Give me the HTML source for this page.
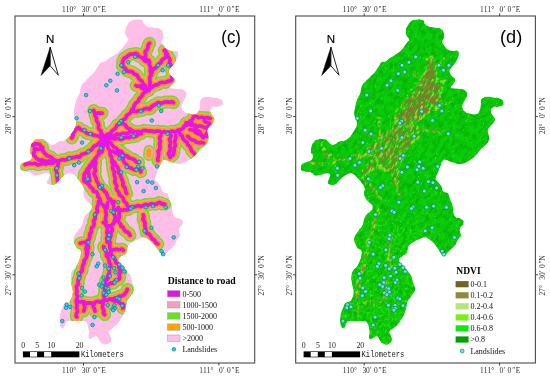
<!DOCTYPE html>
<html><head><meta charset="utf-8"><title>Distance to road and NDVI maps</title>
<style>
html,body{margin:0;padding:0;background:#fff}
svg{display:block}
.cl{font:7.4px "Liberation Serif",serif;fill:#2d2d2d}
.sl{font:7.8px "Liberation Serif",serif;fill:#222}
.km{font:8.4px "Liberation Mono",monospace;fill:#222}
.lt{font:bold 10.3px "Liberation Serif",serif;fill:#000}
.ls{font:bold 9.5px "Liberation Sans",sans-serif;fill:#000}
.li{font:8px "Liberation Serif",serif;fill:#111}
.ttl{font:17.5px "Liberation Sans",sans-serif;fill:#000}
.dot,.dots circle{fill:#0fe1f0;stroke:#1e6e82;stroke-width:0.7}
.dots.dr circle,.dot.dr{fill:#5fe1ff;stroke:#14783c;stroke-width:0.6;r:1.95px}
</style></head><body>
<svg width="550" height="378" viewBox="0 0 550 378">
<defs>
<path id="reg" d="M124.5 45.0C126.2 42.8 125.3 43.8 126.3 42.4C127.3 41.0 128.4 41.4 128.3 39.6C128.2 37.8 126.6 38.0 125.8 35.8C125.0 33.6 124.9 34.0 125.2 31.4C125.5 28.8 125.3 28.7 126.8 26.0C128.3 23.3 128.2 22.8 130.7 21.1C133.2 19.4 133.1 19.8 136.1 19.5C139.1 19.2 139.9 18.9 142.1 20.0C144.3 21.1 142.7 22.1 144.3 23.8C145.9 25.5 145.4 25.5 148.1 26.5C150.8 27.5 151.4 27.0 154.6 27.6C157.8 28.2 157.9 27.5 160.1 28.7C162.3 29.9 161.9 29.8 162.8 32.0C163.7 34.2 163.7 34.4 163.4 36.9C163.1 39.4 161.7 39.0 161.7 41.3C161.7 43.6 161.9 43.2 163.5 45.5C165.1 47.8 165.2 48.4 167.8 49.8C170.4 51.2 170.8 50.6 173.3 50.9C175.8 51.2 175.8 50.0 177.1 50.9C178.4 51.8 178.3 51.9 178.2 54.2C178.1 56.5 177.8 57.0 176.6 59.6C175.4 62.2 175.4 61.8 173.8 64.0C172.2 66.2 171.9 65.8 170.6 67.8C169.3 69.8 168.8 69.4 168.9 71.6C169.0 73.8 169.6 73.9 171.1 76.0C172.6 78.1 174.1 77.3 174.6 79.4C175.1 81.5 174.1 81.5 172.9 83.7C171.7 85.9 169.5 86.2 170.2 87.5C170.9 88.8 172.5 88.1 175.7 88.6C178.9 89.1 179.6 88.5 182.2 89.2C184.8 89.9 184.3 89.8 185.5 91.4C186.7 93.0 186.8 93.2 186.6 95.2C186.4 97.2 185.9 96.8 184.9 99.0C183.9 101.2 183.6 101.1 182.7 103.4C181.8 105.7 181.2 105.5 181.7 107.7C182.2 109.9 182.2 109.9 184.4 111.5C186.6 113.1 186.9 113.0 189.8 113.7C192.7 114.4 193.0 114.9 195.3 114.2C197.6 113.5 197.4 113.3 198.6 111.0C199.8 108.7 199.3 108.4 199.8 105.5C200.3 102.6 199.5 102.2 200.4 100.1C201.3 98.0 201.2 98.6 203.0 97.7C204.8 96.8 204.3 96.8 207.2 96.8C210.1 96.8 210.5 97.1 213.7 97.6C216.9 98.1 216.9 97.8 219.2 98.7C221.5 99.6 221.8 99.1 222.5 100.9C223.2 102.7 223.4 103.7 221.9 105.3C220.4 106.9 219.6 106.3 217.0 106.9C214.4 107.5 213.8 106.1 212.1 107.4C210.4 108.7 210.3 109.5 210.5 111.8C210.7 114.1 211.7 114.2 212.7 116.2C213.7 118.2 214.5 117.4 214.3 119.4C214.1 121.4 213.3 122.0 212.1 123.8C210.9 125.6 211.2 124.2 209.9 126.0C208.6 127.8 207.6 127.9 207.2 130.5C206.8 133.1 208.2 133.0 208.3 135.9C208.4 138.8 208.7 138.8 207.7 141.4C206.7 144.0 206.5 143.5 204.5 145.7C202.5 147.9 202.3 147.3 200.1 149.5C197.9 151.7 198.5 151.6 196.3 153.9C194.1 156.2 194.4 156.3 191.9 158.3C189.4 160.3 189.7 160.1 187.0 161.5C184.3 162.9 184.5 163.1 181.6 163.7C178.7 164.3 179.0 164.1 176.1 163.7C173.2 163.3 173.6 163.1 170.7 162.1C167.8 161.1 167.5 160.2 165.2 159.9C162.9 159.6 163.3 159.5 161.9 161.0C160.5 162.5 161.2 162.9 160.1 165.5C159.0 168.1 159.0 168.0 157.9 170.9C156.8 173.8 156.5 174.1 155.8 176.4C155.1 178.7 154.5 177.9 155.2 179.6C155.9 181.3 156.9 180.8 158.5 182.9C160.1 185.0 160.1 185.0 161.2 187.3C162.3 189.6 161.2 190.0 162.8 191.6C164.4 193.2 165.6 191.8 167.2 193.3C168.8 194.8 168.1 195.2 168.8 197.1C169.5 199.0 169.0 198.2 169.9 200.5C170.8 202.8 171.4 203.0 172.1 205.9C172.8 208.8 172.0 208.5 172.7 211.4C173.4 214.3 173.1 214.9 174.8 216.8C176.5 218.7 177.1 217.4 179.2 218.4C181.3 219.4 181.6 219.0 182.5 220.6C183.4 222.2 183.2 222.5 182.5 224.4C181.8 226.3 180.6 225.6 179.7 227.7C178.8 229.8 179.1 230.0 179.2 232.1C179.3 234.2 180.9 233.2 180.2 235.5C179.5 237.8 178.1 238.3 176.6 240.9C175.1 243.5 176.2 243.0 174.5 245.3C172.8 247.6 172.3 247.4 170.1 249.6C167.9 251.8 168.2 251.8 166.3 253.4C164.4 255.0 164.6 255.6 163.0 255.6C161.4 255.6 161.9 255.3 160.3 253.4C158.7 251.5 159.0 251.2 157.0 248.5C155.0 245.8 155.0 245.6 152.7 243.1C150.4 240.6 150.6 240.8 148.3 239.3C146.0 237.8 146.5 237.6 143.9 237.6C141.3 237.6 141.4 238.1 138.5 239.3C135.6 240.5 135.6 240.4 133.0 242.0C130.4 243.6 130.3 243.3 128.7 245.3C127.1 247.3 128.0 247.2 127.1 249.4C126.2 251.6 127.1 251.8 125.5 253.7C123.9 255.6 123.0 254.9 121.1 256.5C119.2 258.1 118.8 258.0 118.4 259.7C118.0 261.4 118.1 261.1 119.5 263.0C120.9 264.9 121.8 264.6 123.8 266.8C125.8 269.0 125.3 268.9 127.1 271.2C128.9 273.5 129.1 272.9 130.4 275.5C131.7 278.1 131.2 278.3 132.0 281.0C132.8 283.7 132.8 283.3 133.5 285.5C134.2 287.7 134.8 287.3 134.6 289.3C134.4 291.3 134.2 290.9 132.9 293.1C131.6 295.3 131.2 295.1 129.6 297.4C128.0 299.7 127.9 299.2 126.9 301.8C125.9 304.4 126.5 304.4 125.8 307.3C125.1 310.2 125.2 310.1 124.2 312.7C123.2 315.3 123.1 315.0 122.0 317.1C120.9 319.2 121.3 318.6 119.9 320.7C118.5 322.8 118.6 323.0 116.6 325.1C114.6 327.2 114.3 326.7 112.3 328.4C110.3 330.1 109.6 329.7 109.0 331.6C108.4 333.5 109.5 333.3 110.1 335.4C110.7 337.5 111.3 337.2 111.2 339.3C111.1 341.4 111.1 341.7 109.6 343.1C108.1 344.5 107.8 344.6 105.7 344.7C103.6 344.8 103.6 344.7 101.9 343.6C100.2 342.5 100.6 342.3 99.2 340.4C97.8 338.5 98.1 337.2 96.5 336.5C94.9 335.8 95.0 336.9 93.2 337.6C91.4 338.3 91.2 339.4 89.9 339.3C88.6 339.2 88.6 339.2 88.3 337.1C88.0 335.0 88.9 334.2 88.8 331.6C88.7 329.0 88.5 329.3 88.0 327.3C87.5 325.3 87.9 325.5 87.0 324.0C86.1 322.5 87.3 322.4 84.6 321.6C81.9 320.8 81.1 321.2 77.0 321.1C72.9 321.0 72.3 320.7 69.4 321.1C66.5 321.5 67.4 321.3 66.1 322.7C64.8 324.1 65.5 325.0 64.5 326.5C63.5 328.0 63.5 328.3 62.3 328.2C61.1 328.1 60.8 327.8 60.1 326.0C59.4 324.2 59.7 323.9 59.6 321.6C59.5 319.3 59.3 319.9 59.6 317.3C59.9 314.7 59.8 314.7 60.7 311.8C61.6 308.9 61.7 308.7 62.8 306.4C63.9 304.1 63.2 304.6 65.0 303.1C66.8 301.6 67.6 302.4 69.4 300.9C71.2 299.4 70.7 299.6 71.6 297.6C72.5 295.6 72.4 295.1 72.7 293.3C73.0 291.5 73.1 292.9 72.8 291.0C72.5 289.1 72.3 288.8 71.7 286.0C71.1 283.2 71.0 283.4 70.7 280.5C70.4 277.6 70.3 277.7 70.7 275.1C71.1 272.5 70.9 273.0 72.3 270.7C73.7 268.4 74.4 269.0 76.1 266.4C77.8 263.8 77.6 263.8 78.8 260.9C80.0 258.0 80.0 258.3 80.5 255.5C81.0 252.7 81.2 252.3 80.5 250.5C79.8 248.7 79.0 250.1 77.7 248.9C76.4 247.7 76.7 248.2 75.6 246.0C74.5 243.8 73.7 243.3 73.4 240.5C73.1 237.7 73.4 238.2 74.5 235.6C75.6 233.0 75.8 233.4 77.7 230.7C79.6 228.0 80.1 228.2 81.6 225.3C83.1 222.4 82.1 222.7 83.2 219.8C84.3 216.9 84.2 216.6 85.9 214.4C87.6 212.2 87.9 213.5 89.5 211.5C91.1 209.5 92.0 209.1 91.9 206.9C91.8 204.7 90.9 205.1 89.2 203.1C87.5 201.1 87.0 201.8 85.4 199.3C83.8 196.8 83.7 196.7 83.2 193.8C82.7 190.9 84.1 191.0 83.7 188.4C83.3 185.8 83.3 186.6 81.6 184.0C79.9 181.4 79.5 181.1 77.2 178.5C74.9 175.9 75.1 175.5 72.8 174.2C70.5 172.9 71.1 173.0 68.5 173.6C65.9 174.2 65.6 174.5 63.0 176.4C60.4 178.3 60.9 178.6 58.7 180.7C56.5 182.8 57.2 183.4 54.6 184.4C52.0 185.4 51.2 185.0 49.1 184.4C47.0 183.8 47.0 183.8 46.9 182.2C46.8 180.6 48.0 180.5 48.6 178.4C49.2 176.3 50.1 175.8 49.1 174.5C48.1 173.2 47.3 173.2 44.7 173.4C42.1 173.6 42.0 174.5 39.3 175.1C36.6 175.7 36.6 176.2 34.4 175.6C32.2 175.0 33.3 173.9 31.1 172.9C28.9 171.9 28.8 172.4 26.2 171.8C23.6 171.2 22.9 171.9 21.3 170.7C19.7 169.5 20.1 169.3 20.2 167.4C20.3 165.5 20.2 165.0 21.8 163.6C23.4 162.2 23.7 163.1 26.2 162.0C28.7 160.9 29.6 161.3 31.1 159.3C32.6 157.3 31.9 156.1 31.7 154.4C31.5 152.7 30.4 155.0 30.2 152.9C30.0 150.8 29.9 149.5 30.8 146.4C31.7 143.3 31.6 143.3 33.5 141.4C35.4 139.5 35.2 139.9 37.8 139.3C40.4 138.7 40.8 138.9 43.3 139.3C45.8 139.7 45.2 139.6 47.1 140.9C49.0 142.2 48.5 143.3 50.4 144.2C52.3 145.1 52.0 144.9 54.2 144.2C56.4 143.5 56.0 142.4 58.6 141.4C61.2 140.4 61.4 141.4 64.0 140.4C66.6 139.4 66.4 139.5 68.4 137.6C70.4 135.7 70.0 135.6 71.6 133.3C73.2 131.0 73.2 131.5 74.4 128.9C75.6 126.3 76.0 126.1 76.2 123.5C76.4 120.9 75.7 121.3 75.0 119.0C74.3 116.7 73.8 117.3 73.5 114.7C73.2 112.1 73.6 112.2 74.0 109.3C74.4 106.4 74.4 106.7 75.1 103.8C75.8 100.9 75.5 101.3 76.7 98.4C77.9 95.5 78.5 95.8 79.5 92.9C80.5 90.0 79.9 89.9 80.6 87.5C81.3 85.1 81.1 85.7 82.3 84.0C83.5 82.3 83.3 83.0 85.2 81.0C87.1 79.0 87.3 78.9 89.6 76.6C91.9 74.3 91.7 74.9 93.9 72.3C96.1 69.7 95.9 69.4 97.7 66.8C99.5 64.2 98.6 63.8 100.5 62.4C102.4 61.0 102.5 62.5 104.8 61.4C107.1 60.3 106.6 59.9 109.2 58.1C111.8 56.3 111.7 56.8 114.6 54.8C117.5 52.8 117.5 53.1 120.1 50.5C122.7 47.9 122.8 47.2 124.5 45.0Z"/>
<path id="roads" d="M146.4 89.5C146.2 88.9 146.3 88.9 145.9 87.6C145.5 86.4 145.9 86.8 145.2 85.8C144.4 84.8 144.4 85.5 143.6 84.5C142.8 83.5 143.2 84.0 142.6 82.8C142.0 81.6 142.7 82.0 141.8 81.0C140.9 80.0 140.9 80.7 139.9 79.8C138.8 78.8 139.4 79.3 138.6 78.2C137.9 77.0 138.4 77.5 137.7 76.3C136.9 75.1 137.5 75.4 136.4 74.6C135.2 73.9 135.4 74.8 134.2 74.1C133.0 73.3 133.9 73.2 132.9 72.4C131.8 71.5 132.3 71.9 131.0 71.5C129.6 71.2 130.2 71.7 128.8 71.4C127.4 71.1 128.0 71.4 126.9 70.6C125.8 69.7 126.5 69.9 125.6 68.8C124.7 67.7 125.2 68.2 124.2 67.4C123.2 66.5 123.0 67.2 122.5 66.1C122.1 65.0 122.9 65.3 122.9 64.0C122.9 62.6 122.4 63.3 122.5 62.1C122.7 60.8 122.8 61.5 123.3 60.3C123.8 59.1 123.2 59.4 124.1 58.4C125.0 57.5 125.0 58.2 126.1 57.5C127.2 56.8 126.4 57.1 127.4 56.3C128.4 55.5 127.9 55.8 129.0 55.1C130.1 54.4 129.5 54.5 130.8 54.2C132.0 53.9 131.4 54.3 132.7 54.1C134.1 53.9 133.4 53.7 134.8 53.6C136.2 53.5 135.9 53.0 137.0 53.7C138.1 54.5 137.1 54.9 138.1 55.8C139.1 56.8 138.7 56.0 139.9 56.6C141.1 57.3 140.5 56.9 141.7 57.6C142.9 58.3 142.5 57.8 143.5 58.8C144.4 59.8 143.5 59.7 144.5 60.6C145.5 61.5 145.8 61.2 146.5 61.5M136.0 85.5C136.7 85.7 136.6 86.0 137.9 86.2C139.3 86.4 138.9 85.5 140.0 86.0C141.2 86.5 140.3 86.7 141.3 87.7C142.2 88.6 141.7 88.2 142.9 88.8C144.1 89.3 143.7 89.1 144.9 89.4C146.1 89.6 146.0 89.5 146.6 89.5M148.7 90.6C149.0 90.0 149.2 90.0 149.7 88.8C150.2 87.6 150.2 88.2 150.1 86.9C150.0 85.5 149.4 86.1 149.5 84.8C149.5 83.5 150.1 84.2 150.2 82.9C150.4 81.6 150.1 82.3 149.9 81.0C149.8 79.6 149.8 80.3 149.8 79.0C149.8 77.6 149.4 78.3 149.8 76.9C150.3 75.6 150.9 76.3 151.1 74.9C151.4 73.6 150.8 74.2 150.6 72.8C150.3 71.5 150.4 72.2 150.3 70.9C150.3 69.6 150.4 70.2 150.5 69.0C150.5 67.7 150.7 68.3 150.4 67.0C150.1 65.7 149.8 66.4 149.5 65.1C149.2 63.8 149.6 64.5 149.5 63.1C149.4 61.7 150.0 61.9 149.2 60.8C148.4 59.8 148.1 60.8 147.0 60.0C146.0 59.2 146.6 59.6 145.9 58.4C145.3 57.3 145.3 57.9 145.2 56.6C145.1 55.3 145.7 56.0 145.7 54.6C145.6 53.2 144.9 53.8 145.1 52.4C145.2 51.1 145.4 51.7 146.2 50.6C147.0 49.4 146.8 50.1 147.4 48.9C148.0 47.7 147.6 48.3 147.9 46.9C148.2 45.6 147.7 46.0 148.3 44.8C148.9 43.6 149.2 43.7 149.7 43.2M151.8 73.1C151.9 72.4 151.7 72.2 152.2 70.9C152.7 69.7 152.4 70.2 153.3 69.3C154.2 68.3 154.0 68.9 155.0 68.1C156.1 67.3 155.7 67.8 156.6 66.8C157.5 65.8 156.9 66.2 157.7 65.1C158.6 64.1 158.0 64.5 159.1 63.6C160.2 62.8 160.2 63.7 161.0 62.6C161.9 61.6 160.9 61.6 161.7 60.4C162.4 59.3 162.1 60.0 163.2 59.1C164.4 58.3 164.0 58.8 165.0 57.9C166.0 56.9 166.0 57.5 166.3 56.3C166.6 55.0 166.0 55.5 165.8 54.1C165.7 52.8 166.2 53.5 165.9 52.3C165.6 51.1 165.4 51.3 165.1 50.5C164.7 49.8 165.0 50.2 164.9 50.0M164.2 50.4C164.6 50.9 164.7 50.9 165.6 51.9C166.4 52.9 166.1 52.3 166.7 53.5C167.3 54.6 166.9 54.1 167.4 55.3C168.0 56.5 167.7 55.9 168.3 57.0C169.0 58.2 168.9 57.5 169.5 58.7C170.0 59.9 169.9 59.3 169.9 60.7C169.9 62.0 169.2 61.5 169.5 62.8C169.7 64.1 169.9 63.4 170.6 64.6C171.2 65.7 171.0 65.1 171.4 66.4C171.8 67.7 171.7 67.0 171.8 68.4C171.8 69.8 171.3 69.2 171.6 70.5C172.0 71.8 172.6 71.0 172.8 72.4C173.1 73.7 172.6 73.1 172.4 74.5C172.2 75.8 172.4 75.2 172.1 76.4C171.9 77.7 171.9 76.9 171.7 78.2C171.4 79.5 172.2 79.4 171.5 80.3C170.8 81.2 170.8 80.6 169.5 80.9C168.2 81.2 168.8 80.8 167.5 81.3C166.2 81.8 167.0 82.1 165.6 82.4C164.3 82.7 164.9 82.3 163.5 82.3C162.1 82.3 162.8 82.2 161.5 82.5C160.1 82.7 160.7 82.4 159.5 83.1C158.4 83.8 159.1 84.1 157.9 84.6C156.7 85.1 157.1 84.3 155.9 84.7C154.6 85.0 155.3 85.0 154.2 85.6C153.0 86.2 153.5 85.7 152.5 86.5C151.4 87.2 152.2 87.0 151.1 87.8C150.0 88.6 149.9 88.4 149.2 88.9C148.5 89.5 149.0 89.3 149.0 89.4M147.5 90.6C146.9 91.0 146.9 91.0 145.8 91.8C144.6 92.5 145.0 92.0 144.0 92.9C142.9 93.8 143.4 93.3 142.6 94.4C141.9 95.6 142.5 95.2 141.7 96.3C140.9 97.4 141.1 96.7 140.2 97.7C139.2 98.7 139.5 98.0 138.8 99.3C138.2 100.5 139.1 100.4 138.3 101.5C137.5 102.6 137.4 101.7 136.4 102.6C135.3 103.4 135.8 103.0 135.0 104.1C134.3 105.2 134.5 104.6 134.0 105.8C133.5 107.1 134.3 106.8 133.6 107.9C133.0 109.1 132.8 108.3 132.0 109.3C131.2 110.4 131.8 109.9 131.2 111.1C130.6 112.3 131.1 111.9 130.3 112.9C129.5 113.9 129.8 113.4 128.7 114.2C127.6 115.0 127.9 114.3 126.9 115.3C126.0 116.2 126.6 115.8 126.0 117.0C125.4 118.2 126.0 118.0 125.0 118.9C124.1 119.9 124.1 119.0 123.1 119.9C122.1 120.9 122.9 120.6 122.0 121.7C121.2 122.8 121.6 122.3 120.6 123.2C119.7 124.1 120.3 123.8 119.1 124.5C117.9 125.1 118.0 124.2 117.0 125.1C116.1 126.0 116.9 125.9 116.2 127.1C115.6 128.3 115.9 127.7 115.0 128.6C114.1 129.6 114.5 129.0 113.5 129.9C112.4 130.8 112.8 130.2 111.9 131.2C111.0 132.2 111.7 132.0 110.8 132.9C109.8 133.9 110.3 133.4 109.0 134.0C107.7 134.6 108.0 133.8 107.0 134.6C106.0 135.5 106.5 135.6 105.9 136.5C105.4 137.4 105.6 137.1 105.4 137.4M132.4 110.7C133.1 110.9 133.1 111.0 134.4 111.3C135.7 111.5 135.1 111.5 136.4 111.4C137.7 111.2 137.0 111.1 138.3 110.8C139.5 110.4 138.9 110.4 140.2 110.3C141.5 110.2 141.0 110.8 142.2 110.4C143.5 110.0 142.7 109.8 143.9 109.2C145.2 108.6 144.6 108.9 145.9 108.6C147.2 108.4 146.4 108.4 147.9 108.5C149.3 108.5 149.0 109.4 150.1 108.8C151.3 108.2 150.3 107.8 151.3 106.8C152.2 105.8 151.9 106.5 153.0 105.8C154.0 105.1 153.4 105.4 154.5 104.7C155.6 104.1 155.1 104.5 156.3 103.9C157.4 103.2 156.7 103.0 158.0 102.7C159.3 102.4 158.8 102.8 160.2 103.0C161.5 103.1 160.9 103.3 162.2 103.1C163.4 102.9 162.8 102.8 164.0 102.4C165.3 102.0 164.7 102.1 165.9 101.9C167.2 101.8 166.6 101.9 167.9 102.0C169.2 102.1 168.5 102.3 169.9 102.2C171.3 102.1 170.9 101.6 172.1 101.8C173.3 102.0 173.0 102.4 173.5 102.8M103.7 136.4C103.3 135.9 103.4 135.8 102.5 134.7C101.7 133.6 101.7 134.4 101.1 133.2C100.5 131.9 101.5 132.2 100.8 131.0C100.2 129.8 99.9 130.7 99.1 129.5C98.4 128.4 98.7 128.9 98.5 127.6C98.3 126.2 98.6 126.8 98.6 125.4C98.5 124.0 98.8 124.7 98.3 123.4C97.9 122.1 97.8 122.8 97.2 121.6C96.5 120.4 96.6 121.1 96.4 119.7C96.2 118.4 96.9 118.9 96.4 117.7C96.0 116.4 95.7 117.2 95.2 115.9C94.7 114.7 95.2 115.2 94.9 114.0C94.6 112.7 94.7 113.2 94.3 112.1C93.9 110.9 93.9 111.0 93.7 110.5M96.4 113.5C97.1 113.3 97.1 113.1 98.5 113.0C99.8 112.8 99.3 113.1 100.5 113.1C101.7 113.2 101.6 113.1 102.1 113.1M102.7 137.1C102.0 137.2 101.8 137.8 100.5 137.5C99.2 137.2 100.0 136.8 98.8 136.2C97.6 135.7 98.1 136.1 96.9 135.7C95.6 135.4 96.2 135.5 94.9 135.3C93.6 135.1 94.2 135.6 92.9 135.0C91.7 134.5 92.5 134.0 91.2 133.6C89.9 133.3 90.5 134.0 89.1 133.9C87.8 133.8 88.4 133.9 87.2 133.3C86.0 132.8 86.7 133.0 85.6 132.2C84.6 131.3 85.3 131.4 84.2 130.8C83.1 130.1 83.6 130.6 82.3 130.2C81.0 129.7 81.6 130.2 80.3 129.4C79.1 128.6 79.8 128.0 78.6 127.8C77.3 127.6 77.7 127.9 76.6 128.8C75.5 129.6 76.0 129.3 75.2 130.3C74.5 131.4 75.1 130.9 74.4 132.0C73.6 133.1 73.4 132.4 73.0 133.6C72.5 134.9 73.3 134.4 73.0 135.8C72.7 137.1 72.4 136.8 72.0 137.5C71.6 138.3 71.9 137.9 71.8 138.0M103.0 139.2C102.6 139.7 102.7 139.8 101.7 140.7C100.8 141.7 101.2 141.2 100.2 142.0C99.1 142.8 99.4 142.2 98.5 143.2C97.6 144.2 98.5 144.2 97.5 145.0C96.4 145.7 96.6 144.9 95.4 145.5C94.2 146.0 94.8 145.8 93.8 146.7C92.9 147.5 93.3 147.0 92.5 148.1C91.7 149.3 92.5 149.2 91.5 150.0C90.5 150.8 90.6 149.9 89.4 150.6C88.3 151.2 89.0 151.1 88.0 151.9C87.0 152.7 87.6 152.5 86.3 153.1C85.1 153.6 85.6 153.2 84.3 153.6C83.0 154.0 83.5 153.5 82.3 154.2C81.1 154.9 81.8 154.6 80.7 155.6C79.7 156.6 80.4 156.9 79.1 157.2C77.9 157.5 78.3 156.6 76.9 156.6C75.5 156.7 76.3 157.0 75.0 157.3C73.7 157.7 74.4 157.4 73.1 157.7C71.8 157.9 72.5 157.9 71.1 158.0C69.8 158.0 70.3 157.3 69.0 157.7C67.8 158.1 68.5 158.5 67.3 159.2C66.1 159.9 66.8 159.6 65.5 159.7C64.2 159.9 64.8 159.7 63.4 159.7C62.1 159.8 62.7 159.5 61.5 159.9C60.2 160.2 60.9 160.4 59.6 160.8C58.4 161.2 59.0 160.9 57.6 161.0C56.3 161.1 56.8 160.6 55.6 161.1C54.4 161.6 55.1 161.9 53.9 162.5C52.7 163.2 53.3 162.9 52.0 163.1C50.7 163.3 51.3 163.3 50.0 163.2C48.6 163.2 49.2 162.8 47.9 163.0C46.6 163.3 47.4 163.8 46.1 164.0C44.8 164.2 45.4 163.6 44.1 163.5C42.8 163.4 43.4 163.5 42.1 163.7C40.8 164.0 41.5 163.9 40.2 164.3C38.9 164.6 39.5 165.0 38.1 164.8C36.8 164.7 37.5 164.3 36.1 163.8C34.8 163.3 35.5 163.3 34.1 163.3C32.7 163.3 33.4 163.8 32.0 163.8C30.7 163.8 31.3 163.4 30.0 163.3C28.7 163.3 29.4 163.3 28.1 163.6C26.8 163.9 27.1 163.8 26.1 164.1C25.2 164.5 25.5 164.5 25.2 164.6M55.9 160.6C55.3 160.4 55.1 160.6 54.0 160.0C52.8 159.3 53.5 159.5 52.5 158.6C51.6 157.6 52.2 157.8 51.1 157.1C50.0 156.3 50.5 156.8 49.2 156.4C47.9 155.9 48.3 156.4 47.3 155.7C46.2 155.0 46.9 155.2 45.9 154.3C45.0 153.4 45.3 154.0 44.4 153.0C43.5 152.0 43.9 152.5 43.3 151.3C42.7 150.2 42.9 150.8 42.6 149.5C42.3 148.2 43.0 148.5 42.4 147.4C41.7 146.2 41.5 147.1 40.7 146.2C39.8 145.2 40.7 145.1 39.7 144.4C38.8 143.7 39.1 144.3 37.8 144.1C36.5 143.9 37.1 143.8 35.8 143.9C34.6 144.0 35.3 144.1 34.1 144.5C32.9 144.9 32.9 145.0 32.3 145.2M41.1 149.3C40.4 149.3 40.4 149.5 39.1 149.4C37.7 149.4 38.5 149.4 37.0 149.1C35.5 148.8 35.4 147.8 34.6 148.4C33.8 149.1 34.8 149.5 34.6 151.1C34.3 152.6 34.0 151.7 33.7 153.0C33.5 154.3 33.3 153.8 33.8 155.0C34.3 156.2 34.4 155.5 35.3 156.5C36.1 157.6 35.5 157.2 36.3 158.1C37.2 159.0 36.8 158.5 37.8 159.2C38.9 159.9 38.3 160.1 39.6 160.3C40.9 160.6 40.4 159.8 41.7 160.0C43.0 160.2 42.2 160.6 43.5 160.9C44.8 161.3 44.2 161.1 45.5 161.2C46.8 161.3 46.2 161.4 47.5 161.3C48.9 161.3 48.6 160.8 49.6 161.0C50.6 161.2 50.2 161.5 50.5 161.8M58.2 163.5C58.1 164.1 58.0 164.1 57.8 165.5C57.6 166.8 58.2 166.2 57.6 167.5C56.9 168.8 56.2 167.9 55.8 169.2C55.4 170.5 55.9 170.0 56.4 171.4C56.8 172.8 56.9 172.0 57.1 173.4C57.4 174.7 57.2 174.1 57.2 175.5C57.2 176.8 57.1 176.2 57.2 177.5C57.3 178.8 57.3 178.3 57.5 179.4C57.6 180.6 57.5 180.4 57.5 180.9M105.4 137.4C106.0 137.3 106.1 137.7 107.4 137.2C108.6 136.7 107.8 136.2 109.0 135.9C110.3 135.5 109.8 136.1 111.1 136.1C112.5 136.1 111.8 136.1 113.1 135.8C114.3 135.5 113.7 135.8 115.0 135.2C116.2 134.6 115.5 134.3 116.7 134.0C118.0 133.7 117.5 134.3 118.8 134.4C120.2 134.4 119.5 134.3 120.8 134.0C122.1 133.7 121.4 133.6 122.7 133.4C124.0 133.2 123.4 133.4 124.7 133.4C126.1 133.5 125.5 133.8 126.8 133.5C128.1 133.3 127.4 133.4 128.7 132.7C129.9 132.1 129.2 131.8 130.5 131.6C131.8 131.4 131.3 132.0 132.6 132.1C134.0 132.2 133.3 131.9 134.6 131.7C135.9 131.6 135.2 131.7 136.6 131.6C137.9 131.5 137.2 131.2 138.5 131.4C139.9 131.5 139.3 132.2 140.6 132.1C141.9 131.9 141.2 131.4 142.5 130.9C143.7 130.4 143.1 130.5 144.4 130.4C145.7 130.4 145.1 130.4 146.4 130.6C147.7 130.8 147.1 131.0 148.4 131.1C149.7 131.2 149.1 130.8 150.4 130.8C151.7 130.8 151.0 130.8 152.3 131.2C153.6 131.5 152.9 131.9 154.3 131.9C155.6 131.9 154.9 131.5 156.3 131.2C157.6 131.0 157.0 131.0 158.3 131.1C159.6 131.2 158.9 131.1 160.2 131.5C161.5 132.0 160.9 132.4 162.2 132.4C163.5 132.5 162.9 131.7 164.2 131.6C165.5 131.5 164.8 132.0 166.2 132.1C167.5 132.3 166.8 132.2 168.1 132.2C169.5 132.1 168.8 132.3 170.1 132.0C171.4 131.6 170.8 131.2 172.1 131.1C173.4 131.0 172.7 131.7 174.1 131.7C175.4 131.8 174.9 131.9 176.1 131.4C177.4 130.9 176.6 130.8 177.9 130.2C179.1 129.7 178.5 130.1 179.8 129.7C181.1 129.3 180.6 129.7 181.8 129.1C183.0 128.5 182.6 129.0 183.4 127.9C184.3 126.9 183.3 126.8 184.3 125.9C185.3 125.1 185.3 126.0 186.5 125.3C187.7 124.6 187.0 124.9 187.9 123.9C188.8 122.9 188.4 123.4 189.2 122.4C190.1 121.3 189.4 121.6 190.4 120.8C191.4 119.9 191.3 120.7 192.2 119.8C193.1 118.8 192.3 119.1 193.1 117.9C193.8 116.7 193.3 116.6 194.4 116.2C195.6 115.8 195.2 116.2 196.5 116.6C197.9 117.1 197.1 117.3 198.5 117.5C199.8 117.8 199.2 117.5 200.6 117.4C202.0 117.4 201.3 117.1 202.6 117.4C204.0 117.7 203.2 118.2 204.6 118.3C205.9 118.4 205.3 117.8 206.7 117.7C208.1 117.6 207.5 117.8 208.7 118.1C209.9 118.3 209.7 118.3 210.2 118.5M105.5 137.8C106.1 138.2 106.1 138.9 107.4 139.1C108.7 139.2 108.1 138.6 109.4 138.4C110.8 138.1 110.1 138.3 111.4 138.4C112.7 138.4 112.1 138.4 113.4 138.6C114.7 138.7 114.0 138.9 115.3 138.9C116.7 138.8 116.0 138.3 117.3 138.3C118.7 138.3 117.9 138.6 119.3 138.9C120.6 139.2 120.0 139.4 121.4 139.3C122.7 139.1 122.0 138.9 123.2 138.4C124.5 137.9 123.8 138.0 125.1 137.7C126.4 137.4 125.8 137.6 127.1 137.5C128.4 137.4 127.8 137.9 129.1 137.5C130.4 137.2 129.6 136.6 130.9 136.4C132.3 136.2 131.7 136.9 133.0 136.9C134.4 136.9 133.7 136.8 135.0 136.4C136.2 136.0 135.7 136.5 136.8 135.7C137.9 134.8 137.1 134.6 138.3 134.0C139.4 133.4 139.4 134.1 140.3 133.9C141.3 133.8 140.9 133.6 141.2 133.5M122.1 123.7C122.8 123.8 123.0 123.5 124.2 124.1C125.4 124.7 124.8 124.4 125.6 125.5C126.5 126.5 125.8 126.3 126.7 127.3C127.6 128.2 127.2 127.7 128.4 128.3C129.5 129.0 129.0 128.5 130.2 129.2C131.3 129.9 130.7 129.6 131.8 130.4C132.9 131.2 132.9 131.2 133.5 131.7M186.0 123.0C186.7 123.1 186.7 122.8 188.0 123.4C189.2 123.9 188.5 124.1 189.7 124.7C190.9 125.3 190.3 125.1 191.6 125.2C192.9 125.4 192.3 125.1 193.6 125.2C195.0 125.2 194.3 124.9 195.6 125.3C196.9 125.7 196.1 126.1 197.4 126.3C198.7 126.5 198.1 125.8 199.5 125.8C200.8 125.8 200.1 125.9 201.4 126.3C202.7 126.6 202.0 126.4 203.3 126.9C204.5 127.4 204.2 127.6 205.2 127.8C206.1 127.9 205.9 127.5 206.2 127.3M190.0 129.6C190.7 129.8 190.8 129.6 192.1 130.0C193.5 130.4 192.9 130.0 194.0 130.8C195.1 131.6 194.4 131.5 195.5 132.4C196.6 133.3 196.0 133.0 197.3 133.5C198.5 134.0 198.0 133.5 199.3 133.8C200.6 134.1 200.1 133.7 201.2 134.4C202.3 135.1 201.5 135.3 202.7 135.9C203.8 136.6 203.9 136.1 204.7 136.3C205.5 136.4 205.0 136.4 205.2 136.4M187.6 136.2C188.1 136.6 188.1 136.6 189.1 137.6C190.1 138.5 189.5 138.3 190.6 139.0C191.6 139.8 191.0 139.5 192.3 140.0C193.6 140.4 193.3 139.7 194.4 140.3C195.6 141.0 194.7 141.2 195.8 141.9C196.9 142.6 196.5 142.1 197.8 142.4C199.0 142.7 198.3 142.8 199.5 142.8C200.7 142.8 200.0 142.3 201.3 142.3C202.7 142.3 202.8 142.7 203.5 142.9M191.7 121.9C191.9 122.6 191.5 122.9 192.2 124.1C192.9 125.2 192.9 124.3 193.8 125.3C194.8 126.2 194.3 125.7 195.1 126.8C195.8 127.9 195.4 127.4 196.1 128.6C196.7 129.7 196.1 129.4 197.0 130.3C198.0 131.2 197.9 130.5 198.9 131.3C200.0 132.1 199.6 131.6 200.2 132.8C200.9 134.0 200.1 133.7 200.8 134.9C201.5 136.1 201.4 135.5 202.2 136.5C203.0 137.4 202.9 137.3 203.2 137.7M179.5 133.1C179.9 133.7 179.7 133.8 180.6 134.8C181.6 135.7 181.7 134.8 182.3 135.9C183.0 137.1 182.2 136.9 182.7 138.1C183.2 139.4 183.0 138.7 183.9 139.7C184.7 140.7 184.2 140.3 185.3 141.1C186.4 141.9 186.3 141.2 187.1 142.3C187.8 143.3 186.9 143.2 187.6 144.4C188.2 145.5 188.1 144.8 189.0 145.8C189.9 146.8 189.6 146.2 190.3 147.3C190.9 148.5 190.5 148.0 191.0 149.3C191.5 150.5 191.0 150.0 191.8 151.1C192.6 152.2 192.5 151.4 193.4 152.5C194.4 153.5 194.3 153.7 194.7 154.3M204.3 120.8C204.9 121.3 204.8 121.5 206.0 122.1C207.2 122.7 206.8 122.0 208.0 122.6C209.2 123.2 209.3 122.8 209.5 123.9C209.7 125.0 208.9 124.6 208.6 126.0C208.2 127.4 208.6 126.7 208.5 128.0C208.3 129.4 208.4 128.7 208.2 130.0C208.0 131.3 208.4 130.8 207.8 132.0C207.2 133.1 206.8 132.3 206.4 133.6C206.0 134.8 206.7 134.7 206.8 135.7C206.9 136.7 206.7 136.3 206.7 136.7M160.8 135.6C160.4 136.2 159.9 136.2 159.6 137.5C159.3 138.9 159.7 138.2 159.9 139.6C160.1 141.0 160.4 140.3 160.3 141.6C160.2 143.0 159.8 142.3 159.6 143.6C159.5 145.0 159.8 144.4 159.9 145.7C160.0 147.1 160.0 146.4 159.9 147.7C159.8 149.0 160.1 148.4 159.5 149.6C159.0 150.9 158.4 150.2 158.1 151.4C157.9 152.7 158.5 152.1 158.7 153.5C158.8 154.8 158.7 154.1 158.5 155.4C158.4 156.8 158.5 156.1 158.2 157.4C157.9 158.8 157.7 158.4 157.6 159.4C157.5 160.5 157.9 160.2 158.0 160.6M171.0 135.5C170.9 136.2 171.1 136.2 170.6 137.6C170.1 138.9 169.6 138.2 169.5 139.6C169.4 140.9 170.1 140.3 170.3 141.6C170.6 143.0 170.3 142.3 170.2 143.7C170.0 145.0 170.0 144.3 169.9 145.7C169.9 147.0 170.0 146.4 170.1 147.7C170.2 149.1 170.4 148.5 170.2 149.8C170.0 151.2 170.0 150.5 169.5 151.8C168.9 153.1 168.6 152.4 168.6 153.8C168.7 155.1 169.0 154.6 169.5 155.8C170.0 157.0 169.9 156.9 170.2 157.4M175.8 135.5C175.8 136.2 175.9 136.2 175.7 137.5C175.5 138.8 175.7 138.2 175.3 139.5C174.9 140.8 174.6 140.1 174.5 141.4C174.4 142.8 174.7 142.1 175.0 143.5C175.3 144.9 175.6 144.3 175.4 145.6C175.2 146.9 174.7 146.2 174.3 147.5C173.9 148.8 174.3 148.2 174.2 149.5C174.0 150.8 174.1 150.2 173.9 151.5C173.7 152.8 174.0 152.2 173.6 153.5C173.1 154.8 172.9 154.8 172.6 155.4M105.1 139.0C105.6 139.5 105.7 139.4 106.6 140.4C107.5 141.4 106.6 141.3 107.8 142.0C108.9 142.7 108.9 141.8 110.1 142.4C111.3 143.0 110.6 142.9 111.4 143.9C112.2 145.0 111.7 144.6 112.6 145.6C113.4 146.7 112.9 146.3 114.0 147.1C115.0 147.9 114.7 147.2 115.8 148.0C116.8 148.8 116.2 148.6 117.1 149.5C118.1 150.4 117.4 150.2 118.6 150.8C119.9 151.4 119.6 150.6 120.8 151.3C122.0 151.9 121.3 151.7 122.2 152.7C123.1 153.7 122.6 153.3 123.5 154.3C124.5 155.3 123.8 155.1 125.0 155.7C126.3 156.2 126.0 155.3 127.2 156.0C128.4 156.6 127.5 156.8 128.6 157.6C129.7 158.4 129.2 157.9 130.5 158.3C131.8 158.7 131.2 158.4 132.5 158.9C133.7 159.4 133.2 158.9 134.3 159.7C135.4 160.6 134.6 160.6 135.7 161.5C136.8 162.3 136.6 161.9 137.6 162.2C138.5 162.6 138.2 162.4 138.6 162.5M104.1 141.6C103.7 142.2 103.9 142.2 103.1 143.3C102.3 144.4 102.3 143.7 101.6 144.9C101.0 146.0 101.5 145.5 101.1 146.7C100.7 148.0 101.0 147.4 100.6 148.6C100.1 149.9 100.3 149.3 99.7 150.4C99.0 151.5 98.9 150.8 98.6 152.0C98.3 153.3 99.1 153.0 98.7 154.3C98.4 155.5 98.3 154.8 97.5 155.8C96.7 156.9 97.1 156.4 96.2 157.4C95.3 158.4 95.4 157.7 94.8 158.9C94.2 160.0 95.1 159.9 94.4 161.0C93.7 162.2 93.6 161.3 92.8 162.3C91.9 163.3 92.4 162.9 91.9 164.1C91.3 165.3 91.8 164.9 91.1 166.0C90.5 167.2 91.0 166.8 89.9 167.6C88.9 168.5 89.0 167.8 88.0 168.6C87.0 169.4 87.4 169.0 86.8 170.2C86.2 171.3 86.9 171.0 86.1 172.1C85.4 173.2 85.2 172.3 84.6 173.4C83.9 174.5 84.4 174.1 84.2 175.4C84.0 176.8 84.2 176.2 84.1 177.4C83.9 178.7 83.8 177.9 83.9 179.1C83.9 180.4 83.5 180.2 84.2 181.3C85.0 182.3 84.9 181.6 86.1 182.3C87.2 183.1 86.7 182.7 87.7 183.6C88.8 184.5 88.4 184.0 89.2 185.0C90.0 186.1 89.3 185.8 90.2 186.7C91.0 187.7 90.9 187.0 91.8 187.9C92.7 188.8 92.2 188.3 92.8 189.5C93.5 190.8 92.7 190.8 93.8 191.5C94.9 192.2 95.0 191.0 96.1 191.6C97.2 192.1 96.5 192.0 97.1 193.1C97.7 194.2 97.6 193.6 97.9 194.9C98.3 196.2 97.5 195.8 98.1 196.9C98.7 198.1 98.9 197.2 99.6 198.3C100.3 199.5 99.8 199.0 100.2 200.3C100.6 201.6 100.3 201.0 100.8 202.2C101.4 203.5 100.8 203.1 101.7 204.0C102.7 205.0 102.8 204.2 103.7 205.2C104.6 206.2 103.8 205.9 104.4 207.1C105.0 208.3 105.1 208.2 105.5 208.8M95.8 158.9C95.6 159.5 95.1 159.4 95.2 160.8C95.2 162.1 95.9 161.6 95.9 162.9C95.9 164.2 95.5 163.5 95.2 164.8C94.9 166.0 95.0 165.4 95.0 166.7C94.9 168.0 94.8 167.4 95.0 168.8C95.1 170.1 95.6 169.4 95.4 170.8C95.1 172.2 94.5 171.5 94.2 172.8C94.0 174.2 94.1 173.6 94.5 174.9C94.9 176.2 94.9 175.6 95.4 176.8C95.9 178.0 95.7 177.3 96.1 178.5C96.4 179.8 96.0 179.3 96.4 180.5C96.9 181.7 96.7 181.1 97.4 182.2C98.1 183.3 97.9 182.6 98.4 183.8C98.9 185.1 98.2 184.7 98.8 185.9C99.4 187.1 99.2 186.5 100.1 187.4C101.1 188.3 100.7 187.9 101.7 188.6C102.8 189.4 102.5 188.7 103.3 189.6C104.2 190.5 103.5 190.3 104.3 191.3C105.2 192.3 105.1 191.5 105.9 192.5C106.7 193.5 106.2 193.1 106.8 194.3C107.4 195.5 107.1 194.9 107.6 196.1C108.1 197.4 107.3 197.2 108.2 198.2C109.0 199.2 109.2 198.3 110.2 199.1C111.3 200.0 110.7 199.6 111.3 200.7C112.0 201.9 111.8 201.6 112.2 202.5C112.6 203.4 112.4 203.2 112.4 203.5M106.6 143.4C106.9 144.0 107.0 143.9 107.5 145.2C107.9 146.4 107.6 145.8 108.0 147.1C108.5 148.3 108.1 147.8 108.7 148.9C109.3 150.1 109.4 149.4 109.9 150.6C110.4 151.9 110.1 151.3 110.1 152.7C110.2 154.0 109.8 153.4 110.2 154.7C110.5 156.0 110.7 155.2 111.3 156.4C111.8 157.7 111.6 157.1 111.8 158.4C112.1 159.7 112.0 159.0 112.1 160.3C112.2 161.7 111.7 161.1 112.0 162.4C112.4 163.6 113.0 162.9 113.1 164.2C113.3 165.5 112.7 164.9 112.6 166.2C112.4 167.6 112.5 166.9 112.7 168.2C112.9 169.5 112.7 168.9 113.2 170.1C113.8 171.3 114.1 170.6 114.4 171.9C114.7 173.2 114.1 172.6 114.1 173.9C114.1 175.3 114.1 174.6 114.5 175.9C114.8 177.1 114.8 176.5 115.1 177.8C115.3 179.0 115.2 178.4 115.1 179.7C115.0 181.1 114.7 180.5 114.8 181.8C115.0 183.1 114.9 182.4 115.6 183.7C116.2 184.9 116.5 184.2 116.7 185.5C117.0 186.8 116.4 186.2 116.4 187.5C116.4 188.9 116.2 188.3 116.7 189.5C117.2 190.7 117.0 190.1 117.8 191.1C118.6 192.1 118.5 191.4 119.1 192.6C119.6 193.8 118.6 193.6 119.3 194.7C120.0 195.9 120.1 195.1 121.1 196.0C122.2 196.9 121.7 196.4 122.5 197.5C123.3 198.5 123.0 197.9 123.5 199.2C124.0 200.5 123.2 200.1 124.0 201.3C124.7 202.4 124.7 201.6 125.6 202.6C126.5 203.6 126.1 203.1 126.7 204.3C127.4 205.5 127.3 205.6 127.5 206.2M113.6 161.4C114.0 161.9 114.4 161.7 115.0 162.9C115.7 164.0 114.9 163.7 115.5 164.9C116.1 166.1 116.1 165.3 116.9 166.4C117.7 167.5 117.4 166.9 118.0 168.1C118.6 169.3 118.6 168.6 118.7 170.0C118.8 171.4 118.0 171.0 118.4 172.3C118.7 173.6 119.1 172.7 119.9 173.9C120.6 175.1 120.2 174.5 120.6 175.8C121.0 177.1 120.7 176.5 121.1 177.8C121.5 179.1 121.3 178.5 121.8 179.7C122.4 180.9 122.4 180.2 122.8 181.5C123.2 182.8 122.9 182.2 122.9 183.6C123.0 185.1 122.4 184.6 122.9 185.8C123.5 187.0 123.8 186.2 124.6 187.4C125.3 188.5 124.8 188.0 125.2 189.3C125.6 190.6 125.4 189.9 125.8 191.2C126.1 192.5 126.0 192.4 126.3 193.1C126.6 193.9 126.5 193.4 126.7 193.5M113.0 151.2C113.5 151.6 113.4 151.9 114.5 152.6C115.7 153.3 115.3 152.7 116.6 153.2C117.9 153.8 117.3 153.4 118.4 154.3C119.5 155.1 118.8 154.8 119.8 155.8C120.8 156.7 120.2 156.3 121.3 157.1C122.4 157.9 122.5 157.0 123.2 158.1C123.8 159.2 122.9 159.1 123.2 160.4C123.6 161.7 123.5 161.0 124.2 162.1C125.0 163.2 124.5 162.7 125.5 163.6C126.4 164.6 126.2 163.9 127.0 164.9C127.7 166.0 126.8 166.0 127.7 166.8C128.6 167.6 128.4 166.9 129.6 167.4C130.9 167.9 130.3 167.7 131.4 168.3C132.6 168.9 131.9 168.7 133.2 169.2C134.4 169.6 133.9 169.8 135.2 169.6C136.5 169.3 135.8 168.9 137.1 168.5C138.3 168.2 138.1 167.8 139.1 168.5C140.1 169.2 139.5 169.4 140.1 170.5C140.7 171.7 140.6 171.5 140.8 171.9M103.2 139.4C103.2 140.1 103.1 140.1 103.3 141.5C103.5 142.8 103.5 142.2 103.7 143.5C103.8 144.9 104.0 144.2 103.7 145.5C103.4 146.9 103.3 146.2 102.9 147.5C102.5 148.8 102.9 148.1 102.6 149.4C102.4 150.7 102.6 150.3 102.2 151.3C101.7 152.4 101.6 152.1 101.3 152.6M92.8 161.6C92.5 162.2 92.6 162.2 91.8 163.3C91.1 164.4 91.3 163.8 90.5 164.9C89.7 165.9 89.8 165.3 89.3 166.5C88.8 167.7 89.3 167.2 89.1 168.5C88.9 169.9 88.9 169.2 88.7 170.5C88.4 171.8 88.2 171.1 88.3 172.5C88.5 173.8 88.8 173.2 89.1 174.5C89.4 175.8 89.0 175.1 89.1 176.4C89.2 177.6 89.2 177.0 89.4 178.3C89.6 179.7 89.5 179.6 89.7 180.4C89.9 181.2 89.9 180.6 90.0 180.8M101.3 134.8C101.8 135.2 101.9 135.1 102.8 136.1C103.7 137.1 103.2 136.6 103.9 137.8C104.6 138.9 104.0 138.6 104.9 139.5C105.9 140.4 106.0 140.0 106.7 140.5C107.4 141.0 106.9 140.8 107.0 141.0M100.7 140.6C101.3 140.2 101.2 140.1 102.4 139.4C103.6 138.7 103.0 139.1 104.3 138.5C105.5 137.8 105.1 138.5 106.0 137.5C106.9 136.5 106.4 136.3 107.0 135.5C107.6 134.7 107.6 135.1 107.9 135.0M98.5 201.4C98.5 202.1 98.7 202.1 98.4 203.4C98.2 204.7 98.3 204.1 97.9 205.3C97.5 206.6 97.5 205.9 97.2 207.2C96.9 208.5 97.0 207.8 97.1 209.2C97.1 210.6 97.8 210.1 97.5 211.4C97.2 212.7 96.8 211.9 96.1 213.1C95.5 214.3 95.9 213.7 95.5 215.0C95.2 216.3 95.3 215.6 95.1 216.9C94.9 218.2 95.4 217.7 94.9 218.9C94.5 220.2 94.0 219.4 93.7 220.7C93.4 222.0 94.0 221.4 94.0 222.8C94.1 224.2 94.3 223.6 93.9 224.9C93.5 226.1 93.6 225.5 92.8 226.6C92.1 227.7 92.1 227.0 91.6 228.2C91.1 229.5 91.6 228.9 91.4 230.2C91.2 231.5 91.5 230.9 91.0 232.1C90.4 233.4 90.2 232.6 89.9 233.9C89.5 235.1 90.0 234.6 89.8 236.0C89.7 237.4 89.8 236.7 89.4 238.0C89.0 239.3 89.3 238.7 88.5 239.8C87.7 241.0 87.3 240.2 86.9 241.5C86.6 242.8 87.4 242.3 87.3 243.7C87.3 245.1 87.1 244.3 86.7 245.6C86.4 246.9 86.5 246.2 86.3 247.5C86.1 248.8 85.9 248.2 86.1 249.5C86.3 250.8 86.8 250.1 86.9 251.4C87.0 252.8 86.4 252.4 86.4 253.5C86.5 254.6 86.7 255.0 87.1 254.7C87.5 254.4 87.6 254.0 87.6 252.6C87.7 251.2 87.1 251.8 87.2 250.4C87.3 249.1 87.6 249.8 88.0 248.5C88.4 247.2 88.2 247.2 88.3 246.5M86.1 242.8C85.4 242.6 85.4 242.4 84.0 242.4C82.7 242.4 83.3 242.4 82.1 242.7C80.8 243.0 80.8 243.1 80.2 243.3M114.0 201.5C113.9 202.2 113.8 202.2 113.7 203.6C113.6 204.9 113.7 204.3 113.7 205.6C113.7 207.0 113.5 206.3 113.7 207.7C113.9 209.0 114.2 208.3 114.1 209.6C114.1 211.0 113.6 210.4 113.5 211.7C113.4 213.0 113.3 212.4 113.8 213.6C114.3 214.9 114.4 214.2 114.9 215.5C115.4 216.7 115.2 216.1 115.2 217.4C115.2 218.7 115.2 218.1 114.9 219.4C114.6 220.6 114.5 219.9 114.2 221.2C113.8 222.4 114.5 222.0 113.9 223.2C113.2 224.3 112.9 223.5 112.2 224.6C111.5 225.8 111.9 225.3 111.7 226.6C111.6 227.9 111.7 227.3 111.8 228.6C112.0 230.0 112.5 229.4 112.1 230.7C111.8 231.9 111.2 231.2 110.8 232.4C110.5 233.7 111.0 233.1 110.9 234.4C110.8 235.8 110.9 235.1 110.6 236.4C110.2 237.6 110.4 237.0 110.0 238.3C109.5 239.5 109.2 238.8 109.2 240.1C109.1 241.4 109.6 240.9 109.8 242.2C110.1 243.5 110.0 242.8 109.9 244.1C109.9 245.3 109.7 244.7 109.7 246.0C109.8 247.4 109.7 246.7 110.0 248.0C110.3 249.3 110.3 248.6 110.6 249.9C110.9 251.2 110.8 250.5 110.9 251.8C111.0 253.2 110.9 253.2 110.9 253.8M115.6 220.5C116.4 220.8 116.6 220.5 117.8 221.2C119.1 222.0 118.4 221.6 119.3 222.6C120.2 223.7 119.8 223.1 120.4 224.3C121.0 225.5 120.3 225.2 121.2 226.2C122.0 227.3 122.0 226.4 122.9 227.3C123.8 228.3 123.2 227.9 123.9 229.1C124.6 230.3 124.0 229.9 125.0 230.8C125.9 231.7 125.5 231.2 126.7 231.8C127.9 232.5 127.6 231.9 128.5 232.8C129.4 233.7 129.0 233.7 129.5 234.6C130.0 235.4 129.9 235.1 130.0 235.4M103.3 222.6C103.9 222.8 104.1 222.4 105.2 223.3C106.2 224.2 105.4 224.3 106.4 225.1C107.4 226.0 107.0 225.6 108.3 225.8C109.6 226.0 109.5 225.8 110.3 225.8C111.1 225.8 110.6 225.8 110.8 225.8M115.1 210.7C115.8 210.4 115.8 209.9 117.2 209.7C118.5 209.5 117.8 210.0 119.2 210.1C120.5 210.3 119.9 210.2 121.2 210.1C122.6 210.0 121.9 210.1 123.3 210.0C124.6 209.8 123.8 209.8 125.2 209.8C126.6 209.7 126.0 210.1 127.3 209.8C128.6 209.5 128.0 209.7 129.1 208.8C130.2 208.0 129.4 207.9 130.5 207.2C131.7 206.6 131.2 207.1 132.5 206.9C133.8 206.8 133.2 207.0 134.5 206.7C135.8 206.5 135.1 206.6 136.4 206.2C137.7 205.9 136.9 205.5 138.3 205.6C139.6 205.6 139.1 206.3 140.4 206.4C141.7 206.5 141.0 206.2 142.3 205.8C143.5 205.4 142.9 205.6 144.2 205.1C145.4 204.7 144.7 204.5 146.0 204.4C147.4 204.4 146.8 205.1 148.1 205.0C149.4 204.8 148.7 204.4 150.0 204.1C151.2 203.7 150.6 203.9 152.0 204.0C153.3 204.0 152.7 204.2 154.1 204.2C155.4 204.3 154.8 204.5 156.1 204.1C157.4 203.7 156.6 203.5 158.0 203.0C159.3 202.5 158.8 202.3 160.0 202.6C161.3 202.8 160.5 203.4 161.8 203.9C163.0 204.3 162.8 203.9 163.8 204.0C164.8 204.1 164.4 204.1 164.7 204.2M143.3 215.0C143.4 215.7 143.7 215.6 143.6 217.0C143.5 218.4 142.8 217.8 143.0 219.1C143.2 220.4 143.5 219.7 144.1 221.0C144.8 222.3 144.7 221.6 144.9 222.9C145.2 224.2 144.8 223.6 144.8 225.0C144.9 226.4 144.8 225.7 145.1 227.0C145.4 228.3 145.4 227.7 145.7 229.0C146.0 230.3 145.7 229.7 146.0 231.0C146.3 232.4 145.7 232.1 146.6 233.0C147.5 234.0 147.6 233.1 148.7 233.9C149.9 234.7 149.2 234.4 150.0 235.4C150.8 236.5 150.4 235.9 151.1 237.1C151.9 238.2 151.2 237.9 152.2 238.8C153.2 239.7 153.1 238.9 154.1 239.8C155.1 240.7 154.4 240.4 155.2 241.5C156.0 242.7 155.5 242.4 156.5 243.2C157.4 244.0 157.4 243.7 157.9 243.9M107.7 202.5C107.6 203.2 107.6 203.2 107.4 204.5C107.2 205.8 107.3 205.2 107.1 206.5C106.9 207.9 107.3 207.2 106.8 208.5C106.3 209.8 105.7 209.0 105.5 210.4C105.2 211.7 105.7 211.1 106.0 212.5C106.3 213.9 106.4 213.2 106.3 214.5C106.3 215.9 106.2 215.2 105.9 216.5C105.6 217.8 105.5 217.2 105.5 218.5C105.4 219.8 105.6 219.2 105.7 220.5C105.9 221.8 106.0 221.1 106.0 222.5C105.9 223.9 105.3 223.3 105.6 224.6C105.9 226.0 106.3 225.2 107.0 226.5C107.6 227.7 107.3 227.1 107.4 228.5C107.6 229.8 107.6 229.1 107.4 230.5C107.2 231.8 106.8 231.2 106.9 232.5C107.0 233.9 107.6 233.2 107.7 234.5C107.8 235.8 107.5 235.2 107.2 236.5C106.8 237.8 106.7 237.1 106.7 238.4C106.7 239.8 107.0 239.1 107.1 240.5C107.3 241.9 107.2 241.9 107.2 242.6M118.3 207.5C118.6 208.1 118.8 208.1 119.2 209.4C119.5 210.7 119.4 210.1 119.3 211.4C119.3 212.8 119.1 212.2 119.0 213.5C119.0 214.9 119.1 214.2 119.2 215.5C119.3 216.8 119.5 216.2 119.2 217.5C118.9 218.8 118.6 218.5 118.3 219.4C117.9 220.4 118.3 220.1 118.2 220.4M86.5 253.5C86.6 254.3 86.9 254.4 86.8 255.7C86.7 257.0 86.8 256.4 86.2 257.6C85.7 258.7 85.9 258.1 85.2 259.3C84.5 260.4 84.4 259.7 84.0 260.9C83.7 262.2 84.5 261.8 84.2 263.1C83.9 264.4 83.6 263.6 83.0 264.8C82.4 266.1 82.7 265.4 82.5 266.8C82.2 268.1 82.4 267.5 82.2 268.9C82.1 270.2 82.6 269.7 82.0 270.9C81.4 272.2 81.2 271.4 80.4 272.6C79.7 273.7 79.9 273.1 79.7 274.4C79.4 275.8 80.0 275.3 79.6 276.6C79.3 277.9 79.0 277.1 78.5 278.4C78.0 279.6 78.3 279.0 78.2 280.4C78.0 281.7 78.1 281.0 78.1 282.4C78.2 283.7 78.7 283.1 78.2 284.4C77.7 285.6 77.2 284.8 76.7 286.1C76.1 287.3 76.6 286.8 76.6 288.1C76.7 289.4 76.7 288.8 76.8 290.1C76.9 291.4 77.0 290.7 76.9 292.1C76.8 293.4 76.4 292.7 76.5 294.1C76.6 295.4 77.0 294.7 77.3 296.0C77.5 297.4 77.6 296.7 77.3 298.0C77.0 299.3 76.7 298.7 76.4 300.0C76.1 301.3 76.3 300.7 76.4 302.0C76.6 303.4 76.6 302.7 76.8 304.1C77.0 305.4 77.1 304.8 77.0 306.1C76.9 307.5 76.3 306.8 76.5 308.1C76.6 309.5 77.3 308.8 77.4 310.2C77.6 311.5 77.3 310.9 77.0 312.2C76.6 313.5 76.7 312.8 76.5 314.1C76.2 315.4 76.1 315.1 76.2 316.1C76.3 317.0 76.6 316.7 76.9 317.0M103.7 246.3C103.8 247.0 103.4 247.1 103.9 248.3C104.4 249.5 104.5 248.8 105.3 249.9C106.0 251.0 105.7 250.5 106.1 251.7C106.6 252.9 106.5 252.2 106.6 253.6C106.7 254.9 106.0 254.5 106.4 255.7C106.9 257.0 107.2 256.1 108.0 257.2C108.7 258.3 108.2 257.8 108.6 259.0C109.0 260.3 108.9 259.7 109.1 261.0C109.4 262.2 108.9 261.7 109.4 262.9C109.9 264.2 110.3 263.4 110.6 264.7C110.9 266.0 110.7 265.5 110.2 266.8C109.8 268.1 109.6 267.3 109.3 268.6C109.0 269.9 109.4 269.3 109.4 270.7C109.4 272.0 109.6 271.4 109.3 272.7C109.1 274.0 109.1 273.3 108.6 274.6C108.1 275.8 108.1 275.1 107.8 276.4C107.5 277.7 108.3 277.2 107.8 278.5C107.3 279.7 107.1 278.9 106.3 280.0C105.5 281.1 105.8 280.5 105.4 281.8C104.9 283.0 105.0 282.4 105.1 283.7C105.1 285.1 105.8 284.5 105.6 285.8C105.4 287.1 104.8 286.4 104.5 287.6C104.2 288.9 104.6 288.3 104.7 289.6C104.7 290.9 104.8 290.3 104.8 291.6C104.8 292.9 105.0 292.2 104.7 293.6C104.3 294.9 103.9 294.2 103.7 295.5C103.6 296.9 104.1 296.5 104.3 297.5C104.6 298.5 104.5 298.2 104.5 298.5M106.9 253.5C107.7 253.6 107.8 253.3 109.1 253.7C110.4 254.1 109.9 253.8 110.9 254.6C111.9 255.5 111.2 255.4 112.2 256.3C113.1 257.2 112.9 256.5 113.7 257.4C114.6 258.4 114.1 258.0 114.7 259.2C115.3 260.4 115.0 259.8 115.5 261.0C116.0 262.2 115.3 261.9 116.2 262.9C117.1 263.9 117.5 263.0 118.3 264.1C119.1 265.1 118.4 264.7 118.7 266.1C119.0 267.4 118.8 266.7 119.1 268.0C119.4 269.3 119.1 268.7 119.6 269.9C120.1 271.2 120.7 270.5 120.7 271.7C120.7 272.9 120.0 272.3 119.6 273.5C119.1 274.8 119.3 274.1 119.3 275.5C119.3 276.9 119.9 276.4 119.6 277.7C119.4 279.0 119.7 278.7 118.6 279.5C117.5 280.3 117.7 279.6 116.4 280.2C115.1 280.8 115.7 280.3 114.6 281.3C113.6 282.2 114.5 282.5 113.3 283.1C112.2 283.6 112.5 282.7 111.1 282.9C109.8 283.2 110.5 283.3 109.3 283.9C108.1 284.6 108.1 284.6 107.5 284.9M113.5 249.6C114.2 249.6 114.2 249.7 115.5 249.5C116.9 249.4 116.2 249.3 117.5 249.3C118.8 249.3 118.0 249.7 119.4 249.6C120.8 249.6 120.3 248.9 121.6 249.1C122.9 249.4 122.8 249.9 123.4 250.3M78.2 301.7C78.8 301.7 78.8 301.8 80.2 301.8C81.5 301.8 80.9 301.7 82.2 301.7C83.6 301.8 82.9 301.4 84.2 301.9C85.5 302.4 84.8 302.9 86.1 303.3C87.4 303.6 86.8 303.0 88.2 302.9C89.6 302.8 88.9 302.8 90.2 303.0C91.6 303.2 91.0 303.4 92.3 303.4C93.6 303.3 93.0 303.5 94.3 302.9C95.5 302.4 94.8 302.2 96.0 301.8C97.3 301.3 96.6 301.5 98.0 301.5C99.4 301.6 98.9 302.2 100.2 302.0C101.5 301.8 100.8 301.4 102.0 301.0C103.2 300.5 102.6 300.8 103.9 300.6C105.2 300.4 104.6 300.4 105.9 300.2C107.2 300.1 106.6 300.6 107.9 300.2C109.2 299.7 108.5 298.9 109.8 298.8C111.1 298.7 110.5 299.2 111.7 299.8C113.0 300.4 112.3 300.2 113.6 300.6C114.8 301.0 114.1 301.0 115.5 301.0C116.8 301.0 116.5 300.3 117.6 300.7C118.8 301.1 118.0 301.4 119.0 302.3C120.0 303.2 119.4 302.8 120.6 303.4C121.8 304.0 121.5 303.3 122.6 304.1C123.6 304.9 123.6 304.5 123.7 305.8C123.8 307.0 123.1 307.0 122.9 307.8C122.6 308.6 122.9 308.1 122.9 308.3M111.8 299.2C112.4 299.0 112.4 298.9 113.7 298.5C115.0 298.0 114.3 298.1 115.6 297.9C116.9 297.6 116.4 298.2 117.6 297.6C118.9 297.1 118.0 296.8 119.3 296.2C120.5 295.7 120.0 296.4 121.4 296.0C122.7 295.7 122.2 296.0 123.3 295.2C124.5 294.4 123.8 294.7 124.8 293.7C125.7 292.7 125.4 293.3 126.1 292.1C126.8 291.0 126.5 291.3 126.9 290.3C127.3 289.4 127.1 289.7 127.2 289.4M83.5 304.0C83.9 304.7 84.3 304.7 84.6 306.0C84.9 307.4 84.7 306.7 84.5 308.1C84.4 309.4 84.4 309.1 84.1 310.1C83.8 311.1 83.7 310.7 83.6 311.1M93.9 304.7C93.7 305.4 93.0 305.5 93.2 306.8C93.4 308.1 93.9 307.4 94.5 308.6C95.0 309.9 94.7 309.8 94.9 310.6C95.1 311.4 95.0 310.9 95.0 311.1M103.0 302.5C103.0 303.1 103.2 303.1 103.0 304.5C102.8 305.8 102.5 305.2 102.4 306.6C102.4 307.9 102.3 307.2 102.8 308.5C103.3 309.8 103.7 309.1 103.9 310.5C104.1 311.8 103.3 311.3 103.5 312.5C103.6 313.8 103.8 313.6 104.3 314.3C104.7 314.9 104.6 314.4 104.7 314.4"/>
<path id="roads2" d="M149.0 150.5L148.6 155.5"/>
<clipPath id="cl"><use href="#reg"/></clipPath>
<clipPath id="cr"><use href="#reg" transform="translate(280.7 0)"/></clipPath>
<filter id="rough" x="-5%" y="-5%" width="110%" height="110%"><feTurbulence type="fractalNoise" baseFrequency="0.13" numOctaves="2" seed="4"/><feDisplacementMap in="SourceGraphic" scale="2.6" xChannelSelector="R" yChannelSelector="G"/></filter>
<filter id="tex" x="0" y="0" width="100%" height="100%" color-interpolation-filters="sRGB">
<feTurbulence type="fractalNoise" baseFrequency="0.16 0.3" numOctaves="3" seed="7" result="n"/>
<feColorMatrix in="n" type="matrix" values="0 0 0 0 0.02  0 0 0 0 0.67  0 0 0 0 0.02  0 2.2 0 0 -0.82"/>
</filter>
<filter id="tex2" x="0" y="0" width="100%" height="100%" color-interpolation-filters="sRGB">
<feTurbulence type="fractalNoise" baseFrequency="0.4" numOctaves="2" seed="21" result="n"/>
<feColorMatrix in="n" type="matrix" values="0 0 0 0 0.3  0 0 0 0 0.95  0 0 0 0 0.1  0 0 5 0 -3.4"/>
</filter>
<filter id="tex3" x="0" y="0" width="100%" height="100%" color-interpolation-filters="sRGB">
<feTurbulence type="fractalNoise" baseFrequency="0.33" numOctaves="2" seed="44" result="n"/>
<feColorMatrix in="n" type="matrix" values="0 0 0 0 0.3  0 0 0 0 0.92  0 0 0 0 0.1  0 0 4 0 -2.0"/>
</filter>
<filter id="brn" x="-5%" y="-5%" width="110%" height="110%" color-interpolation-filters="sRGB">
<feTurbulence type="fractalNoise" baseFrequency="0.2" numOctaves="2" seed="5" result="d"/>
<feDisplacementMap in="SourceGraphic" in2="d" scale="7" xChannelSelector="R" yChannelSelector="G" result="s"/>
<feTurbulence type="fractalNoise" baseFrequency="0.16 0.42" numOctaves="2" seed="11" result="n"/>
<feColorMatrix in="n" type="matrix" values="0 0 0 0 0  0 0 0 0 0  0 0 0 0 0  7 0 0 0 -3.3" result="m"/>
<feComposite in="s" in2="m" operator="in"/>
</filter>
<filter id="brnC" x="-5%" y="-5%" width="110%" height="110%" color-interpolation-filters="sRGB">
<feTurbulence type="fractalNoise" baseFrequency="0.2" numOctaves="2" seed="5" result="d"/>
<feDisplacementMap in="SourceGraphic" in2="d" scale="7" xChannelSelector="R" yChannelSelector="G" result="s"/>
<feTurbulence type="fractalNoise" baseFrequency="0.16 0.45" numOctaves="2" seed="17" result="n"/>
<feColorMatrix in="n" type="matrix" values="0 0 0 0 0  0 0 0 0 0  0 0 0 0 0  0 0 7 0 -3.0" result="m"/>
<feComposite in="s" in2="m" operator="in"/>
</filter>
<filter id="brn2" x="-5%" y="-5%" width="110%" height="110%" color-interpolation-filters="sRGB">
<feTurbulence type="fractalNoise" baseFrequency="0.2" numOctaves="2" seed="9" result="d"/>
<feDisplacementMap in="SourceGraphic" in2="d" scale="6" xChannelSelector="R" yChannelSelector="G" result="s"/>
<feTurbulence type="fractalNoise" baseFrequency="0.18 0.42" numOctaves="2" seed="31" result="n"/>
<feColorMatrix in="n" type="matrix" values="0 0 0 0 0  0 0 0 0 0  0 0 0 0 0  0 7 0 0 -3.3" result="m"/>
<feComposite in="s" in2="m" operator="in"/>
</filter>
<linearGradient id="sg" x1="0" y1="185" x2="0" y2="250" gradientUnits="userSpaceOnUse"><stop offset="0" stop-color="#000"/><stop offset="1" stop-color="#fff"/></linearGradient>
<mask id="sm" maskUnits="userSpaceOnUse" x="320" y="170" width="140" height="190"><rect x="320" y="170" width="140" height="190" fill="url(#sg)"/></mask>
<path id="valley" d="M150.6 62.0C152.1 62.7 150.5 63.4 152.5 70.0C154.5 76.6 154.5 73.8 156.5 81.7C158.5 89.6 159.0 87.1 158.5 93.7C158.0 100.3 158.5 96.7 155.0 101.6C151.5 106.5 152.8 103.7 148.0 108.5C143.2 113.3 146.7 111.5 140.7 116.0C134.7 120.5 137.1 120.2 130.0 122.0C122.9 123.8 122.9 125.2 119.5 121.4C116.1 117.6 117.1 118.1 119.8 110.5C122.5 102.9 121.9 106.2 127.5 98.6C133.1 91.0 131.1 94.6 136.5 87.7C141.9 80.8 139.8 84.4 143.6 77.8C147.4 71.2 145.7 73.3 148.0 68.0C150.3 62.7 149.1 61.3 150.6 62.0Z"/>
<path id="valley2" d="M119.8 121.4C127.4 121.1 130.2 122.1 134.7 128.4C139.2 134.7 136.8 132.4 133.2 140.3C129.6 148.2 129.6 144.3 123.8 152.2C118.0 160.1 121.9 158.5 115.9 164.1C109.9 169.7 112.0 169.7 105.9 169.0C99.8 168.3 99.5 168.4 97.5 162.1C95.5 155.8 97.2 158.1 100.0 150.2C102.8 142.3 101.9 145.2 105.9 138.3C109.9 131.4 107.3 135.0 111.9 129.4C116.5 123.8 112.2 121.7 119.8 121.4Z"/>
<path id="vroads" d="M150.0 60.0C149.3 69.7 150.6 77.2 148.0 89.0C145.4 100.8 146.1 90.9 142.2 95.4C138.3 99.9 139.8 97.8 136.4 102.6C133.0 107.4 135.4 105.0 132.0 109.9C128.6 114.8 130.1 112.8 126.2 117.2C122.3 121.6 124.3 119.1 120.4 123.0C116.5 126.9 118.3 125.1 114.5 128.8C110.7 132.5 112.5 130.9 109.0 134.0C105.5 137.1 105.7 136.7 104.0 138.0M131.0 111.5C134.1 111.2 133.9 111.6 140.2 110.5C146.5 109.4 144.8 110.2 149.8 108.1C154.8 106.0 153.5 105.4 155.3 104.1M104.0 138.0C102.3 139.7 102.0 140.2 99.0 143.0C96.0 145.8 98.7 143.3 94.9 146.4C91.1 149.5 92.9 148.8 87.6 152.2C82.3 155.6 81.8 155.1 78.9 156.5M104.0 140.0C102.7 143.3 102.5 144.2 100.0 150.0C97.5 155.8 99.6 152.1 96.4 157.5C93.2 162.9 94.0 161.0 90.5 166.2C87.0 171.4 87.5 170.7 86.0 173.0M106.0 142.0C107.6 146.2 108.8 147.4 110.9 154.5C113.0 161.6 111.4 157.5 112.4 163.3C113.4 169.1 112.8 166.2 113.8 172.0C114.8 177.8 114.8 177.8 115.3 180.7M104.0 138.0C108.9 136.8 109.1 136.3 118.8 134.3C128.5 132.3 128.3 132.7 133.1 131.9"/>
<path id="vroadst" d="M78.9 156.5C75.5 157.2 75.9 156.9 68.7 158.5C61.5 160.1 63.9 159.6 57.2 161.3C50.5 163.0 54.3 162.5 48.5 163.5C42.7 164.5 45.5 164.2 39.7 164.2C33.9 164.2 33.9 163.7 31.0 163.5M57.2 161.3C55.3 160.1 55.3 159.8 51.4 157.6C47.5 155.4 48.4 157.6 45.5 154.7C42.6 151.8 44.5 152.3 42.6 148.9C40.7 145.5 40.7 146.0 39.7 144.5M104.0 138.0C101.5 137.2 101.4 136.8 96.4 135.5C91.4 134.2 93.5 135.7 89.1 134.0C84.7 132.3 85.2 131.6 83.3 130.4M84.7 173.5C84.2 175.4 81.8 175.4 83.3 179.3C84.8 183.2 85.7 181.2 89.1 185.1C92.5 189.0 90.2 186.4 93.5 190.9C96.8 195.4 97.2 196.0 99.1 198.6M115.3 180.7C115.8 183.6 115.1 185.0 116.7 189.5C118.3 194.0 118.9 192.7 120.0 194.3M97.6 207.3C96.9 210.2 96.9 210.2 95.5 216.0C94.1 221.8 95.0 218.9 93.3 224.7C91.6 230.5 92.3 227.7 90.4 233.5C88.5 239.3 89.0 236.9 87.5 242.2C86.0 247.5 87.1 242.7 86.0 249.5C84.9 256.3 85.7 255.3 84.1 262.5C82.5 269.7 83.1 265.4 81.2 271.2C79.3 277.0 79.8 274.1 78.3 279.9C76.8 285.7 77.3 281.9 76.8 288.6C76.3 295.3 76.8 292.5 76.8 300.0C76.8 307.5 76.8 307.5 76.8 311.2M110.7 234.9C110.2 237.8 109.9 235.4 109.3 243.6C108.7 251.8 108.5 251.8 108.8 259.5C109.1 267.2 109.8 264.4 110.3 266.8M105.9 281.4C105.4 283.8 105.0 282.4 104.5 288.6C104.0 294.8 104.5 296.2 104.5 300.0M84.1 302.5C87.0 302.7 87.0 303.7 92.8 303.2C98.6 302.7 98.6 301.7 101.5 301.0M150.5 74.0C152.2 71.7 152.0 71.2 155.5 67.2C159.0 63.2 157.8 65.4 161.1 62.0C164.4 58.6 164.0 58.7 165.5 57.0M165.0 82.0C162.6 82.7 162.1 82.5 157.7 84.0C153.3 85.5 153.8 85.7 151.9 86.5M145.4 86.8C144.2 85.1 144.1 85.1 141.7 81.7C139.3 78.3 141.2 79.7 138.1 76.6C135.0 73.5 134.2 73.7 132.3 72.3M133.1 131.9C137.9 131.5 137.9 130.7 147.4 130.7C156.9 130.7 156.9 131.5 161.7 131.9M155.3 104.1C157.2 103.6 156.7 103.3 161.1 102.6C165.5 101.9 166.0 102.1 168.4 101.9M104.0 138.0C102.4 135.0 101.8 135.3 99.3 128.9C96.8 122.5 97.4 122.1 96.4 118.7M104.0 138.0C107.8 141.3 108.6 142.3 115.3 147.8C122.0 153.3 121.1 152.3 124.0 154.5"/>
</defs>
<rect width="550" height="378" fill="#fff"/>
<!-- left map (c): distance to road -->
<g clip-path="url(#cl)">
<use href="#reg" fill="#ffbee8"/>
<g fill="none" stroke-linecap="round" stroke-linejoin="round">
<use href="#roads" stroke="#64e614" stroke-width="12.8"/><use href="#roads2" stroke="#64e614" stroke-width="11"/>
<use href="#roads" stroke="#f5a0be" stroke-width="9.6"/><use href="#roads2" stroke="#f5a0be" stroke-width="8.2"/>
<use href="#roads" stroke="#ffa000" stroke-width="7.4"/><use href="#roads2" stroke="#ffa000" stroke-width="4.6"/>
<use href="#roads" stroke="#e614e6" stroke-width="3.8"/>
</g>
</g>
<g class="dots"><circle cx="135.0" cy="56.9" r="1.8"/><circle cx="128.2" cy="62.3" r="1.8"/><circle cx="121.3" cy="65.3" r="1.8"/><circle cx="124.0" cy="72.0" r="1.8"/><circle cx="117.6" cy="73.8" r="1.8"/><circle cx="110.3" cy="80.8" r="1.8"/><circle cx="106.3" cy="85.3" r="1.8"/><circle cx="158.1" cy="65.3" r="1.8"/><circle cx="168.2" cy="65.3" r="1.8"/><circle cx="162.7" cy="70.2" r="1.8"/><circle cx="117.0" cy="90.4" r="1.8"/><circle cx="86.1" cy="95.1" r="1.8"/><circle cx="90.0" cy="111.0" r="1.8"/><circle cx="76.6" cy="118.3" r="1.8"/><circle cx="84.5" cy="130.2" r="1.8"/><circle cx="90.3" cy="134.0" r="1.8"/><circle cx="82.1" cy="142.6" r="1.8"/><circle cx="100.9" cy="148.4" r="1.8"/><circle cx="121.0" cy="121.1" r="1.8"/><circle cx="119.2" cy="123.2" r="1.8"/><circle cx="140.9" cy="111.4" r="1.8"/><circle cx="151.8" cy="120.5" r="1.8"/><circle cx="121.3" cy="137.5" r="1.8"/><circle cx="133.4" cy="136.2" r="1.8"/><circle cx="158.8" cy="105.5" r="1.8"/><circle cx="161.2" cy="111.0" r="1.8"/><circle cx="167.6" cy="133.8" r="1.8"/><circle cx="88.3" cy="151.5" r="1.8"/><circle cx="69.3" cy="158.6" r="1.8"/><circle cx="78.8" cy="162.5" r="1.8"/><circle cx="74.2" cy="165.2" r="1.8"/><circle cx="56.7" cy="168.3" r="1.8"/><circle cx="56.9" cy="175.3" r="1.8"/><circle cx="87.7" cy="178.9" r="1.8"/><circle cx="102.0" cy="185.7" r="1.8"/><circle cx="99.8" cy="187.5" r="1.8"/><circle cx="122.5" cy="155.5" r="1.8"/><circle cx="119.4" cy="158.6" r="1.8"/><circle cx="126.7" cy="167.0" r="1.8"/><circle cx="121.2" cy="172.3" r="1.8"/><circle cx="139.1" cy="161.9" r="1.8"/><circle cx="138.2" cy="166.5" r="1.8"/><circle cx="136.3" cy="169.8" r="1.8"/><circle cx="142.5" cy="168.3" r="1.8"/><circle cx="157.0" cy="166.5" r="1.8"/><circle cx="137.1" cy="182.2" r="1.8"/><circle cx="147.7" cy="181.6" r="1.8"/><circle cx="152.2" cy="182.6" r="1.8"/><circle cx="155.9" cy="188.0" r="1.8"/><circle cx="143.6" cy="191.1" r="1.8"/><circle cx="118.2" cy="202.2" r="1.8"/><circle cx="132.3" cy="207.0" r="1.8"/><circle cx="130.8" cy="208.6" r="1.8"/><circle cx="145.9" cy="207.3" r="1.8"/><circle cx="152.9" cy="206.1" r="1.8"/><circle cx="165.7" cy="207.3" r="1.8"/><circle cx="111.3" cy="211.0" r="1.8"/><circle cx="113.5" cy="212.3" r="1.8"/><circle cx="94.8" cy="214.6" r="1.8"/><circle cx="151.4" cy="227.8" r="1.8"/><circle cx="144.5" cy="230.9" r="1.8"/><circle cx="109.1" cy="235.1" r="1.8"/><circle cx="108.4" cy="238.9" r="1.8"/><circle cx="88.5" cy="242.4" r="1.8"/><circle cx="105.2" cy="249.9" r="1.8"/><circle cx="92.5" cy="254.2" r="1.8"/><circle cx="113.1" cy="257.2" r="1.8"/><circle cx="161.5" cy="251.1" r="1.8"/><circle cx="163.1" cy="254.2" r="1.8"/><circle cx="173.7" cy="237.4" r="1.8"/><circle cx="98.2" cy="263.7" r="1.8"/><circle cx="96.7" cy="266.4" r="1.8"/><circle cx="105.0" cy="265.5" r="1.8"/><circle cx="108.6" cy="268.8" r="1.8"/><circle cx="114.1" cy="268.2" r="1.8"/><circle cx="115.4" cy="272.3" r="1.8"/><circle cx="119.2" cy="264.6" r="1.8"/><circle cx="122.3" cy="267.7" r="1.8"/><circle cx="124.5" cy="271.5" r="1.8"/><circle cx="78.5" cy="273.7" r="1.8"/><circle cx="79.4" cy="278.3" r="1.8"/><circle cx="109.9" cy="276.1" r="1.8"/><circle cx="103.5" cy="277.7" r="1.8"/><circle cx="103.1" cy="282.5" r="1.8"/><circle cx="99.1" cy="284.7" r="1.8"/><circle cx="101.9" cy="286.5" r="1.8"/><circle cx="116.3" cy="280.1" r="1.8"/><circle cx="114.6" cy="282.5" r="1.8"/><circle cx="106.2" cy="288.0" r="1.8"/><circle cx="108.1" cy="288.7" r="1.8"/><circle cx="103.7" cy="292.9" r="1.8"/><circle cx="108.6" cy="292.0" r="1.8"/><circle cx="106.2" cy="294.7" r="1.8"/><circle cx="82.1" cy="288.0" r="1.8"/><circle cx="84.9" cy="291.6" r="1.8"/><circle cx="81.6" cy="295.6" r="1.8"/><circle cx="117.2" cy="298.0" r="1.8"/><circle cx="119.2" cy="298.9" r="1.8"/><circle cx="107.7" cy="305.3" r="1.8"/><circle cx="114.4" cy="305.3" r="1.8"/><circle cx="122.3" cy="305.7" r="1.8"/><circle cx="112.3" cy="308.8" r="1.8"/><circle cx="114.6" cy="308.4" r="1.8"/><circle cx="113.2" cy="310.2" r="1.8"/><circle cx="66.6" cy="304.7" r="1.8"/><circle cx="66.1" cy="307.8" r="1.8"/><circle cx="70.3" cy="306.9" r="1.8"/><circle cx="94.4" cy="317.2" r="1.8"/><circle cx="62.3" cy="321.1" r="1.8"/><circle cx="92.5" cy="325.0" r="1.8"/></g>
<rect x="15.0" y="16.0" width="239.7" height="347.0" fill="none" stroke="#4a4a4a" stroke-width="1.1"/>
<path d="M83.5 16.0v-2.6M83.5 363.0v2.6M218.9 16.0v-2.6M218.9 363.0v2.6M15.0 116.6h-2.6M254.7 116.6h2.6M15.0 274.8h-2.6M254.7 274.8h2.6" stroke="#333" stroke-width="0.9" fill="none"/>
<text x="62.1 65.8 69.5 73.3 77.6 81.7 85.4 89.2 93.2 97.8 101.3" y="11.9" class="cl">110° 30′0″E</text>
<text x="199.3 203.0 206.7 210.5 214.8 218.9 222.9 226.9 231.5 235.0" y="11.9" class="cl">111° 0′0″E</text>
<text x="62.1 65.8 69.5 73.3 77.6 81.7 85.4 89.2 93.2 97.8 101.3" y="373.3" class="cl">110° 30′0″E</text>
<text x="199.3 203.0 206.7 210.5 214.8 218.9 222.9 226.9 231.5 235.0" y="373.3" class="cl">111° 0′0″E</text>
<text transform="translate(11.0 133.9) rotate(-90)" x="0.0 3.7 7.5 11.5 15.9 19.9 23.9 28.5 31.2" y="0" class="cl">28° 0′0″N</text>
<text transform="translate(11.0 295.6) rotate(-90)" x="0.0 3.7 7.5 11.5 15.9 19.6 23.6 27.6 32.2 34.9" y="0" class="cl">27° 30′0″N</text>
<text transform="translate(264.3 133.9) rotate(-90)" x="0.0 3.7 7.5 11.5 15.9 19.9 23.9 28.5 31.2" y="0" class="cl">28° 0′0″N</text>
<text transform="translate(264.3 295.6) rotate(-90)" x="0.0 3.7 7.5 11.5 15.9 19.6 23.6 27.6 32.2 34.9" y="0" class="cl">27° 30′0″N</text>
<text x="50.2" y="42.9" text-anchor="middle" style="font:11.5px 'Liberation Sans',sans-serif" fill="#000" stroke="#000" stroke-width="0.15">N</text>
<path d="M50.2 47.2L41.0 75.4L50.2 65.8Z" fill="#000" stroke="#000" stroke-width="0.5" stroke-linejoin="miter"/>
<path d="M50.2 47.2L58.3 75.2L50.2 65.8Z" fill="#fff" stroke="#000" stroke-width="0.85"/>
<rect x="22.9" y="351.4" width="56.5" height="5.9" fill="#000"/>
<rect x="30.0" y="352" width="7.1" height="4.7" fill="#fff"/>
<rect x="44.1" y="352" width="7.1" height="4.7" fill="#fff"/>
<text x="23.1" y="348" text-anchor="middle" class="sl">0</text>
<text x="37.2" y="348" text-anchor="middle" class="sl">5</text>
<text x="51.3" y="348" text-anchor="middle" class="sl">10</text>
<text x="79.6" y="348" text-anchor="middle" class="sl">20</text>
<text x="80.9" y="357.4" class="km" textLength="42.8" lengthAdjust="spacingAndGlyphs">Kilometers</text>
<text x="221.3" y="43.2" class="ttl" textLength="19.6" lengthAdjust="spacingAndGlyphs">(c)</text>
<text x="167.8" y="283.8" class="lt" textLength="67.9" lengthAdjust="spacingAndGlyphs">Distance to road</text>
<rect x="167.5" y="290.6" width="12.5" height="6.3" fill="#e414e6" stroke="#999" stroke-width="0.5"/>
<text x="182.4" y="296.5" class="li">0-500</text>
<rect x="167.5" y="301.7" width="12.5" height="6.3" fill="#f0a0c8" stroke="#999" stroke-width="0.5"/>
<text x="182.4" y="307.6" class="li">1000-1500</text>
<rect x="167.5" y="312.8" width="12.5" height="6.3" fill="#66e619" stroke="#999" stroke-width="0.5"/>
<text x="182.4" y="318.7" class="li">1500-2000</text>
<rect x="167.5" y="323.9" width="12.5" height="6.3" fill="#ffa500" stroke="#999" stroke-width="0.5"/>
<text x="182.4" y="329.8" class="li">500-1000</text>
<rect x="167.5" y="335.0" width="12.5" height="6.3" fill="#ffbee8" stroke="#999" stroke-width="0.5"/>
<text x="182.4" y="340.9" class="li">&gt;2000</text>
<circle cx="173.9" cy="349.3" r="1.8" class="dot"/>
<text x="182.4" y="352" class="li">Landslides</text>
<!-- right map (d): NDVI -->
<g clip-path="url(#cr)">
<use href="#reg" transform="translate(280.7 0)" fill="#0ace0a"/>
<g transform="rotate(-58 415 190)"><rect x="200" y="-30" width="430" height="440" filter="url(#tex)"/></g>
<rect x="295" y="16" width="241" height="347" filter="url(#tex2)"/>
<g mask="url(#sm)"><rect x="330" y="180" width="110" height="170" filter="url(#tex3)" opacity="0.55"/></g>
<g transform="rotate(-62 415 190)" fill="none" stroke-linecap="round" stroke-linejoin="round">
<g filter="url(#brn2)" opacity="0.95"><g transform="rotate(62 415 190) translate(280.7 0)"><use href="#valley" fill="#9be132" stroke="#9be132" stroke-width="6"/><use href="#valley2" fill="#9be132" stroke="#9be132" stroke-width="5"/><use href="#vroads" stroke="#9be132" stroke-width="9"/><use href="#vroadst" stroke="#9be132" stroke-width="3.4"/></g></g>
<g filter="url(#brn)"><g transform="rotate(62 415 190) translate(280.7 0)"><use href="#valley2" fill="#827830"/><use href="#vroads" stroke="#827830" stroke-width="6"/><use href="#vroadst" stroke="#8c7d32" stroke-width="2" opacity="0.9"/></g></g>
<g filter="url(#brnC)"><g transform="rotate(62 415 190) translate(280.7 0)"><use href="#valley" fill="#827830" stroke="#827830" stroke-width="2"/></g></g>
</g>
</g>
<g class="dots dr"><circle cx="415.7" cy="56.9" r="1.8"/><circle cx="408.9" cy="62.3" r="1.8"/><circle cx="402.0" cy="65.3" r="1.8"/><circle cx="404.7" cy="72.0" r="1.8"/><circle cx="398.3" cy="73.8" r="1.8"/><circle cx="391.0" cy="80.8" r="1.8"/><circle cx="387.0" cy="85.3" r="1.8"/><circle cx="438.8" cy="65.3" r="1.8"/><circle cx="448.9" cy="65.3" r="1.8"/><circle cx="443.4" cy="70.2" r="1.8"/><circle cx="397.7" cy="90.4" r="1.8"/><circle cx="366.8" cy="95.1" r="1.8"/><circle cx="370.7" cy="111.0" r="1.8"/><circle cx="357.3" cy="118.3" r="1.8"/><circle cx="365.2" cy="130.2" r="1.8"/><circle cx="371.0" cy="134.0" r="1.8"/><circle cx="362.8" cy="142.6" r="1.8"/><circle cx="381.6" cy="148.4" r="1.8"/><circle cx="401.7" cy="121.1" r="1.8"/><circle cx="399.9" cy="123.2" r="1.8"/><circle cx="421.6" cy="111.4" r="1.8"/><circle cx="432.5" cy="120.5" r="1.8"/><circle cx="402.0" cy="137.5" r="1.8"/><circle cx="414.1" cy="136.2" r="1.8"/><circle cx="439.5" cy="105.5" r="1.8"/><circle cx="441.9" cy="111.0" r="1.8"/><circle cx="448.3" cy="133.8" r="1.8"/><circle cx="369.0" cy="151.5" r="1.8"/><circle cx="350.0" cy="158.6" r="1.8"/><circle cx="359.5" cy="162.5" r="1.8"/><circle cx="354.9" cy="165.2" r="1.8"/><circle cx="337.4" cy="168.3" r="1.8"/><circle cx="337.6" cy="175.3" r="1.8"/><circle cx="368.4" cy="178.9" r="1.8"/><circle cx="382.7" cy="185.7" r="1.8"/><circle cx="380.5" cy="187.5" r="1.8"/><circle cx="403.2" cy="155.5" r="1.8"/><circle cx="400.1" cy="158.6" r="1.8"/><circle cx="407.4" cy="167.0" r="1.8"/><circle cx="401.9" cy="172.3" r="1.8"/><circle cx="419.8" cy="161.9" r="1.8"/><circle cx="418.9" cy="166.5" r="1.8"/><circle cx="417.0" cy="169.8" r="1.8"/><circle cx="423.2" cy="168.3" r="1.8"/><circle cx="437.7" cy="166.5" r="1.8"/><circle cx="417.8" cy="182.2" r="1.8"/><circle cx="428.4" cy="181.6" r="1.8"/><circle cx="432.9" cy="182.6" r="1.8"/><circle cx="436.6" cy="188.0" r="1.8"/><circle cx="424.3" cy="191.1" r="1.8"/><circle cx="398.9" cy="202.2" r="1.8"/><circle cx="413.0" cy="207.0" r="1.8"/><circle cx="411.5" cy="208.6" r="1.8"/><circle cx="426.6" cy="207.3" r="1.8"/><circle cx="433.6" cy="206.1" r="1.8"/><circle cx="446.4" cy="207.3" r="1.8"/><circle cx="392.0" cy="211.0" r="1.8"/><circle cx="394.2" cy="212.3" r="1.8"/><circle cx="375.5" cy="214.6" r="1.8"/><circle cx="432.1" cy="227.8" r="1.8"/><circle cx="425.2" cy="230.9" r="1.8"/><circle cx="389.8" cy="235.1" r="1.8"/><circle cx="389.1" cy="238.9" r="1.8"/><circle cx="369.2" cy="242.4" r="1.8"/><circle cx="385.9" cy="249.9" r="1.8"/><circle cx="373.2" cy="254.2" r="1.8"/><circle cx="393.8" cy="257.2" r="1.8"/><circle cx="442.2" cy="251.1" r="1.8"/><circle cx="443.8" cy="254.2" r="1.8"/><circle cx="454.4" cy="237.4" r="1.8"/><circle cx="378.9" cy="263.7" r="1.8"/><circle cx="377.4" cy="266.4" r="1.8"/><circle cx="385.7" cy="265.5" r="1.8"/><circle cx="389.3" cy="268.8" r="1.8"/><circle cx="394.8" cy="268.2" r="1.8"/><circle cx="396.1" cy="272.3" r="1.8"/><circle cx="399.9" cy="264.6" r="1.8"/><circle cx="403.0" cy="267.7" r="1.8"/><circle cx="405.2" cy="271.5" r="1.8"/><circle cx="359.2" cy="273.7" r="1.8"/><circle cx="360.1" cy="278.3" r="1.8"/><circle cx="390.6" cy="276.1" r="1.8"/><circle cx="384.2" cy="277.7" r="1.8"/><circle cx="383.8" cy="282.5" r="1.8"/><circle cx="379.8" cy="284.7" r="1.8"/><circle cx="382.6" cy="286.5" r="1.8"/><circle cx="397.0" cy="280.1" r="1.8"/><circle cx="395.3" cy="282.5" r="1.8"/><circle cx="386.9" cy="288.0" r="1.8"/><circle cx="388.8" cy="288.7" r="1.8"/><circle cx="384.4" cy="292.9" r="1.8"/><circle cx="389.3" cy="292.0" r="1.8"/><circle cx="386.9" cy="294.7" r="1.8"/><circle cx="362.8" cy="288.0" r="1.8"/><circle cx="365.6" cy="291.6" r="1.8"/><circle cx="362.3" cy="295.6" r="1.8"/><circle cx="397.9" cy="298.0" r="1.8"/><circle cx="399.9" cy="298.9" r="1.8"/><circle cx="388.4" cy="305.3" r="1.8"/><circle cx="395.1" cy="305.3" r="1.8"/><circle cx="403.0" cy="305.7" r="1.8"/><circle cx="393.0" cy="308.8" r="1.8"/><circle cx="395.3" cy="308.4" r="1.8"/><circle cx="393.9" cy="310.2" r="1.8"/><circle cx="347.3" cy="304.7" r="1.8"/><circle cx="346.8" cy="307.8" r="1.8"/><circle cx="351.0" cy="306.9" r="1.8"/><circle cx="375.1" cy="317.2" r="1.8"/><circle cx="343.0" cy="321.1" r="1.8"/><circle cx="373.2" cy="325.0" r="1.8"/></g>
<rect x="295.7" y="16.0" width="239.7" height="347.0" fill="none" stroke="#4a4a4a" stroke-width="1.1"/>
<path d="M364.2 16.0v-2.6M364.2 363.0v2.6M499.6 16.0v-2.6M499.6 363.0v2.6M295.7 116.6h-2.6M535.4 116.6h2.6M295.7 274.8h-2.6M535.4 274.8h2.6" stroke="#333" stroke-width="0.9" fill="none"/>
<text x="342.8 346.5 350.2 354.0 358.3 362.4 366.1 369.9 373.9 378.5 382.0" y="11.9" class="cl">110° 30′0″E</text>
<text x="480.0 483.7 487.4 491.2 495.5 499.6 503.6 507.6 512.2 515.7" y="11.9" class="cl">111° 0′0″E</text>
<text x="342.8 346.5 350.2 354.0 358.3 362.4 366.1 369.9 373.9 378.5 382.0" y="373.3" class="cl">110° 30′0″E</text>
<text x="480.0 483.7 487.4 491.2 495.5 499.6 503.6 507.6 512.2 515.7" y="373.3" class="cl">111° 0′0″E</text>
<text transform="translate(291.7 133.9) rotate(-90)" x="0.0 3.7 7.5 11.5 15.9 19.9 23.9 28.5 31.2" y="0" class="cl">28° 0′0″N</text>
<text transform="translate(291.7 295.6) rotate(-90)" x="0.0 3.7 7.5 11.5 15.9 19.6 23.6 27.6 32.2 34.9" y="0" class="cl">27° 30′0″N</text>
<text transform="translate(545.0 133.9) rotate(-90)" x="0.0 3.7 7.5 11.5 15.9 19.9 23.9 28.5 31.2" y="0" class="cl">28° 0′0″N</text>
<text transform="translate(545.0 295.6) rotate(-90)" x="0.0 3.7 7.5 11.5 15.9 19.6 23.6 27.6 32.2 34.9" y="0" class="cl">27° 30′0″N</text>
<text x="330.9" y="42.9" text-anchor="middle" style="font:11.5px 'Liberation Sans',sans-serif" fill="#000" stroke="#000" stroke-width="0.15">N</text>
<path d="M330.9 47.2L321.7 75.4L330.9 65.8Z" fill="#000" stroke="#000" stroke-width="0.5" stroke-linejoin="miter"/>
<path d="M330.9 47.2L339.0 75.2L330.9 65.8Z" fill="#fff" stroke="#000" stroke-width="0.85"/>
<rect x="303.6" y="351.4" width="56.5" height="5.9" fill="#000"/>
<rect x="310.7" y="352" width="7.1" height="4.7" fill="#fff"/>
<rect x="324.8" y="352" width="7.1" height="4.7" fill="#fff"/>
<text x="303.8" y="348" text-anchor="middle" class="sl">0</text>
<text x="317.9" y="348" text-anchor="middle" class="sl">5</text>
<text x="332.0" y="348" text-anchor="middle" class="sl">10</text>
<text x="360.3" y="348" text-anchor="middle" class="sl">20</text>
<text x="361.6" y="357.4" class="km" textLength="42.8" lengthAdjust="spacingAndGlyphs">Kilometers</text>
<text x="500" y="43.2" class="ttl" textLength="22.2" lengthAdjust="spacingAndGlyphs">(d)</text>
<text x="456.3" y="273.8" class="lt" textLength="24.3" lengthAdjust="spacingAndGlyphs">NDVI</text>
<rect x="455.6" y="281.1" width="13" height="6.2" fill="#6e6428"/>
<text x="470.4" y="287.0" class="li">0-0.1</text>
<rect x="455.6" y="292.2" width="13" height="6.2" fill="#8c8c3c"/>
<text x="470.4" y="298.1" class="li">0.1-0.2</text>
<rect x="455.6" y="303.2" width="13" height="6.2" fill="#b4e678"/>
<text x="470.4" y="309.1" class="li">0.2-0.4</text>
<rect x="455.6" y="314.3" width="13" height="6.2" fill="#78f014"/>
<text x="470.4" y="320.2" class="li">0.4-0.6</text>
<rect x="455.6" y="325.3" width="13" height="6.2" fill="#14e614"/>
<text x="470.4" y="331.2" class="li">0.6-0.8</text>
<rect x="455.6" y="336.4" width="13" height="6.2" fill="#00a000"/>
<text x="470.4" y="342.3" class="li">&gt;0.8</text>
<circle cx="462.2" cy="351" r="1.8" class="dot dr"/>
<text x="470.4" y="353.6" class="li">Landslides</text>
</svg>
</body></html>
